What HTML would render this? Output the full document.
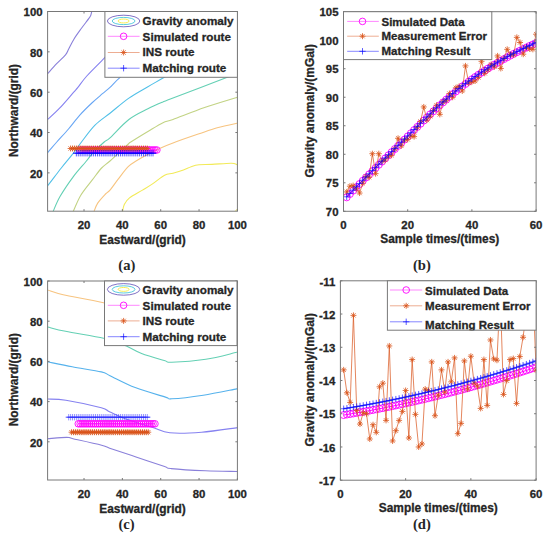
<!DOCTYPE html><html><head><meta charset="utf-8"><style>html,body{margin:0;padding:0;background:#fff;width:550px;height:539px;overflow:hidden}svg{display:block}text{stroke:#262626;stroke-width:0.3px}</style></head><body>
<svg width="550" height="539" viewBox="0 0 550 539" font-family='"Liberation Sans", sans-serif' font-weight="bold" font-size="11.9" fill="#262626">
<rect width="550" height="539" fill="#fff"/>
<defs><clipPath id="ca"><rect x="47.6" y="11.5" width="189.8" height="199.7"/></clipPath></defs>
<g clip-path="url(#ca)">
<path d="M46 75.3C46.27 75.02 45.87 75.5 47.6 73.6C49.33 71.7 53.42 67.03 56.4 63.9C59.38 60.77 63.45 57.28 65.5 54.8C67.55 52.32 67.3 51.6 68.7 49C70.1 46.4 71.83 42.57 73.9 39.2C75.97 35.83 78.6 32.27 81.1 28.8C83.6 25.33 87.28 20.67 88.9 18.4C90.52 16.13 90.33 16.33 90.8 15.2C91.27 14.07 91.42 12.8 91.7 11.6C91.98 10.4 92.37 8.6 92.5 8" fill="none" stroke="#8a80da" stroke-width="1.1" stroke-opacity="1"/>
<path d="M46 120.4C46.38 120.15 46.03 120.93 48.3 118.9C50.57 116.87 55.4 112.62 59.6 108.2C63.8 103.78 70.45 95.87 73.5 92.4C76.55 88.93 75.68 90.13 77.9 87.4C80.12 84.67 82.48 80.78 86.8 76C91.12 71.22 97.43 65.03 103.8 58.7C110.17 52.37 117.3 46.12 125 38C132.7 29.88 145.83 14.67 150 10" fill="none" stroke="#8682f0" stroke-width="1.1" stroke-opacity="1"/>
<path d="M46 154C46.38 153.63 46.5 153.8 48.3 151.8C50.1 149.8 53.43 145.8 56.8 142C60.17 138.2 64.67 133.48 68.5 129C72.33 124.52 75.82 119.52 79.8 115.1C83.78 110.68 88.62 106.07 92.4 102.5C96.18 98.93 99.57 96.22 102.5 93.7C105.43 91.18 107.07 90.13 110 87.4C112.93 84.67 115.1 81.53 120.1 77.3C125.1 73.07 136.68 64.55 140 62" fill="none" stroke="#68a6f4" stroke-width="1.1" stroke-opacity="1"/>
<path d="M46 187C46.38 186.65 45.75 188.07 48.3 184.9C50.85 181.73 57.18 173.2 61.3 168C65.42 162.8 69.63 158.03 73 153.7C76.37 149.37 77.83 146.75 81.5 142C85.17 137.25 90.25 130 95 125.2C99.75 120.4 104.35 117.72 110 113.2C115.65 108.68 122.58 102.52 128.9 98.1C135.22 93.68 142 90.17 147.9 86.7C153.8 83.23 157.28 81.42 164.3 77.3C171.32 73.18 185.72 64.55 190 62" fill="none" stroke="#52c0e8" stroke-width="1.1" stroke-opacity="1"/>
<path d="M52 214C52.15 213.67 51.57 214.9 52.9 212C54.23 209.1 56.65 202.42 60 196.6C63.35 190.78 68.67 182.95 73 177.1C77.33 171.25 82.53 165.72 86 161.5C89.47 157.28 90.77 155.05 93.8 151.8C96.83 148.55 101.5 144.33 104.2 142C106.9 139.67 105.88 141.55 110 137.8C114.12 134.05 122.58 124.33 128.9 119.5C135.22 114.67 142.22 111.73 147.9 108.8C153.58 105.87 158.82 103.68 163 101.9C167.18 100.12 162.28 102.2 173 98.1C183.72 94 215.3 81.98 227.3 77.3C239.3 72.62 242.05 71.22 245 70" fill="none" stroke="#64d0b4" stroke-width="1.1" stroke-opacity="1"/>
<path d="M72 214C72.17 213.67 71.53 215.12 73 212C74.47 208.88 77.55 200.68 80.8 195.3C84.05 189.92 89.03 184.25 92.5 179.7C95.97 175.15 98.68 171.12 101.6 168C104.52 164.88 105.55 165 110 161C114.45 157 124.83 147.17 128.3 144C131.77 140.83 127.53 144.08 130.8 142C134.07 139.92 142.53 134.72 147.9 131.5C153.27 128.28 158.82 124.7 163 122.7C167.18 120.7 166.07 122.02 173 119.5C179.93 116.98 193.98 111.27 204.6 107.6C215.22 103.93 229.97 99.6 236.7 97.5C243.43 95.4 243.62 95.42 245 95" fill="none" stroke="#c2d384" stroke-width="1.1" stroke-opacity="1"/>
<path d="M93 214C93.13 213.67 93.02 213.82 93.8 212C94.58 210.18 95.75 206.1 97.7 203.1C99.65 200.1 103.45 196.17 105.5 194C107.55 191.83 107.95 192.48 110 190.1C112.05 187.72 114.77 183.6 117.8 179.7C120.83 175.8 124.95 169.95 128.2 166.7C131.45 163.45 133.83 162.37 137.3 160.2C140.77 158.03 145.1 155.75 149 153.7C152.9 151.65 156.7 149.7 160.7 147.9C164.7 146.1 166.75 145.2 173 142.9C179.25 140.6 190.83 136.63 198.2 134.1C205.57 131.57 210.78 129.5 217.2 127.7C223.62 125.9 232.07 124.25 236.7 123.3C241.33 122.35 243.62 122.22 245 122" fill="none" stroke="#f7c480" stroke-width="1.1" stroke-opacity="1"/>
<path d="M121.5 214C121.65 213.67 121.93 213.6 122.4 212C122.87 210.4 123.12 206.75 124.3 204.4C125.48 202.05 126.47 200.28 129.5 197.9C132.53 195.52 138.6 192.48 142.5 190.1C146.4 187.72 149.22 186.08 152.9 183.6C156.58 181.12 161.25 176.93 164.6 175.2C167.95 173.47 169.87 174.07 173 173.2C176.13 172.33 180.37 171.08 183.4 170C186.43 168.92 188.6 167.57 191.2 166.7C193.8 165.83 195.53 165.18 199 164.8C202.47 164.42 206.58 164.67 212 164.4C217.42 164.13 227.17 163.08 231.5 163.2C235.83 163.32 235.75 164.47 238 165.1C240.25 165.73 243.83 166.68 245 167" fill="none" stroke="#f2ea58" stroke-width="1.1" stroke-opacity="1"/>
<polyline points="233.5,213 240,206.5" stroke="#f2ea58" fill="none"/>
<circle cx="80.19" cy="150" r="3.3" fill="none" stroke="#ff00ff" stroke-width="0.9"/>
<circle cx="82.11" cy="150" r="3.3" fill="none" stroke="#ff00ff" stroke-width="0.9"/>
<circle cx="84.03" cy="150" r="3.3" fill="none" stroke="#ff00ff" stroke-width="0.9"/>
<circle cx="85.94" cy="150" r="3.3" fill="none" stroke="#ff00ff" stroke-width="0.9"/>
<circle cx="87.86" cy="150" r="3.3" fill="none" stroke="#ff00ff" stroke-width="0.9"/>
<circle cx="89.78" cy="150" r="3.3" fill="none" stroke="#ff00ff" stroke-width="0.9"/>
<circle cx="91.69" cy="150" r="3.3" fill="none" stroke="#ff00ff" stroke-width="0.9"/>
<circle cx="93.61" cy="150" r="3.3" fill="none" stroke="#ff00ff" stroke-width="0.9"/>
<circle cx="95.53" cy="150" r="3.3" fill="none" stroke="#ff00ff" stroke-width="0.9"/>
<circle cx="97.45" cy="150" r="3.3" fill="none" stroke="#ff00ff" stroke-width="0.9"/>
<circle cx="99.36" cy="150" r="3.3" fill="none" stroke="#ff00ff" stroke-width="0.9"/>
<circle cx="101.28" cy="150" r="3.3" fill="none" stroke="#ff00ff" stroke-width="0.9"/>
<circle cx="103.2" cy="150" r="3.3" fill="none" stroke="#ff00ff" stroke-width="0.9"/>
<circle cx="105.12" cy="150" r="3.3" fill="none" stroke="#ff00ff" stroke-width="0.9"/>
<circle cx="107.03" cy="150" r="3.3" fill="none" stroke="#ff00ff" stroke-width="0.9"/>
<circle cx="108.95" cy="150" r="3.3" fill="none" stroke="#ff00ff" stroke-width="0.9"/>
<circle cx="110.87" cy="150" r="3.3" fill="none" stroke="#ff00ff" stroke-width="0.9"/>
<circle cx="112.78" cy="150" r="3.3" fill="none" stroke="#ff00ff" stroke-width="0.9"/>
<circle cx="114.7" cy="150" r="3.3" fill="none" stroke="#ff00ff" stroke-width="0.9"/>
<circle cx="116.62" cy="150" r="3.3" fill="none" stroke="#ff00ff" stroke-width="0.9"/>
<circle cx="118.54" cy="150" r="3.3" fill="none" stroke="#ff00ff" stroke-width="0.9"/>
<circle cx="120.45" cy="150" r="3.3" fill="none" stroke="#ff00ff" stroke-width="0.9"/>
<circle cx="122.37" cy="150" r="3.3" fill="none" stroke="#ff00ff" stroke-width="0.9"/>
<circle cx="124.29" cy="150" r="3.3" fill="none" stroke="#ff00ff" stroke-width="0.9"/>
<circle cx="126.2" cy="150" r="3.3" fill="none" stroke="#ff00ff" stroke-width="0.9"/>
<circle cx="128.12" cy="150" r="3.3" fill="none" stroke="#ff00ff" stroke-width="0.9"/>
<circle cx="130.04" cy="150" r="3.3" fill="none" stroke="#ff00ff" stroke-width="0.9"/>
<circle cx="131.96" cy="150" r="3.3" fill="none" stroke="#ff00ff" stroke-width="0.9"/>
<circle cx="133.87" cy="150" r="3.3" fill="none" stroke="#ff00ff" stroke-width="0.9"/>
<circle cx="135.79" cy="150" r="3.3" fill="none" stroke="#ff00ff" stroke-width="0.9"/>
<circle cx="137.71" cy="150" r="3.3" fill="none" stroke="#ff00ff" stroke-width="0.9"/>
<circle cx="139.62" cy="150" r="3.3" fill="none" stroke="#ff00ff" stroke-width="0.9"/>
<circle cx="141.54" cy="150" r="3.3" fill="none" stroke="#ff00ff" stroke-width="0.9"/>
<circle cx="143.46" cy="150" r="3.3" fill="none" stroke="#ff00ff" stroke-width="0.9"/>
<circle cx="145.38" cy="150" r="3.3" fill="none" stroke="#ff00ff" stroke-width="0.9"/>
<circle cx="147.29" cy="150" r="3.3" fill="none" stroke="#ff00ff" stroke-width="0.9"/>
<circle cx="149.21" cy="150" r="3.3" fill="none" stroke="#ff00ff" stroke-width="0.9"/>
<circle cx="151.13" cy="150" r="3.3" fill="none" stroke="#ff00ff" stroke-width="0.9"/>
<circle cx="153.04" cy="150" r="3.3" fill="none" stroke="#ff00ff" stroke-width="0.9"/>
<circle cx="154.96" cy="150" r="3.3" fill="none" stroke="#ff00ff" stroke-width="0.9"/>
<circle cx="156.88" cy="150" r="3.3" fill="none" stroke="#ff00ff" stroke-width="0.9"/>
<polyline points="80.19,150 156.88,150" fill="none" stroke="#ff00ff" stroke-width="1.0" stroke-opacity="1.0" stroke-linejoin="round" />
<polyline points="70.61,148.5 147.29,148.5" fill="none" stroke="#d95319" stroke-width="1.0" stroke-opacity="1.0" stroke-linejoin="round" />
<path d="M67.61 148.5h6M70.61 145.5v6M68.49 146.38l4.24 4.24M68.49 150.62l4.24 -4.24" stroke="#d95319" stroke-width="0.8"/>
<path d="M69.52 148.5h6M72.52 145.5v6M70.4 146.38l4.24 4.24M70.4 150.62l4.24 -4.24" stroke="#d95319" stroke-width="0.8"/>
<path d="M71.44 148.5h6M74.44 145.5v6M72.32 146.38l4.24 4.24M72.32 150.62l4.24 -4.24" stroke="#d95319" stroke-width="0.8"/>
<path d="M73.36 148.5h6M76.36 145.5v6M74.24 146.38l4.24 4.24M74.24 150.62l4.24 -4.24" stroke="#d95319" stroke-width="0.8"/>
<path d="M75.27 148.5h6M78.27 145.5v6M76.15 146.38l4.24 4.24M76.15 150.62l4.24 -4.24" stroke="#d95319" stroke-width="0.8"/>
<path d="M77.19 148.5h6M80.19 145.5v6M78.07 146.38l4.24 4.24M78.07 150.62l4.24 -4.24" stroke="#d95319" stroke-width="0.8"/>
<path d="M79.11 148.5h6M82.11 145.5v6M79.99 146.38l4.24 4.24M79.99 150.62l4.24 -4.24" stroke="#d95319" stroke-width="0.8"/>
<path d="M81.03 148.5h6M84.03 145.5v6M81.91 146.38l4.24 4.24M81.91 150.62l4.24 -4.24" stroke="#d95319" stroke-width="0.8"/>
<path d="M82.94 148.5h6M85.94 145.5v6M83.82 146.38l4.24 4.24M83.82 150.62l4.24 -4.24" stroke="#d95319" stroke-width="0.8"/>
<path d="M84.86 148.5h6M87.86 145.5v6M85.74 146.38l4.24 4.24M85.74 150.62l4.24 -4.24" stroke="#d95319" stroke-width="0.8"/>
<path d="M86.78 148.5h6M89.78 145.5v6M87.66 146.38l4.24 4.24M87.66 150.62l4.24 -4.24" stroke="#d95319" stroke-width="0.8"/>
<path d="M88.69 148.5h6M91.69 145.5v6M89.57 146.38l4.24 4.24M89.57 150.62l4.24 -4.24" stroke="#d95319" stroke-width="0.8"/>
<path d="M90.61 148.5h6M93.61 145.5v6M91.49 146.38l4.24 4.24M91.49 150.62l4.24 -4.24" stroke="#d95319" stroke-width="0.8"/>
<path d="M92.53 148.5h6M95.53 145.5v6M93.41 146.38l4.24 4.24M93.41 150.62l4.24 -4.24" stroke="#d95319" stroke-width="0.8"/>
<path d="M94.45 148.5h6M97.45 145.5v6M95.33 146.38l4.24 4.24M95.33 150.62l4.24 -4.24" stroke="#d95319" stroke-width="0.8"/>
<path d="M96.36 148.5h6M99.36 145.5v6M97.24 146.38l4.24 4.24M97.24 150.62l4.24 -4.24" stroke="#d95319" stroke-width="0.8"/>
<path d="M98.28 148.5h6M101.28 145.5v6M99.16 146.38l4.24 4.24M99.16 150.62l4.24 -4.24" stroke="#d95319" stroke-width="0.8"/>
<path d="M100.2 148.5h6M103.2 145.5v6M101.08 146.38l4.24 4.24M101.08 150.62l4.24 -4.24" stroke="#d95319" stroke-width="0.8"/>
<path d="M102.12 148.5h6M105.12 145.5v6M102.99 146.38l4.24 4.24M102.99 150.62l4.24 -4.24" stroke="#d95319" stroke-width="0.8"/>
<path d="M104.03 148.5h6M107.03 145.5v6M104.91 146.38l4.24 4.24M104.91 150.62l4.24 -4.24" stroke="#d95319" stroke-width="0.8"/>
<path d="M105.95 148.5h6M108.95 145.5v6M106.83 146.38l4.24 4.24M106.83 150.62l4.24 -4.24" stroke="#d95319" stroke-width="0.8"/>
<path d="M107.87 148.5h6M110.87 145.5v6M108.75 146.38l4.24 4.24M108.75 150.62l4.24 -4.24" stroke="#d95319" stroke-width="0.8"/>
<path d="M109.78 148.5h6M112.78 145.5v6M110.66 146.38l4.24 4.24M110.66 150.62l4.24 -4.24" stroke="#d95319" stroke-width="0.8"/>
<path d="M111.7 148.5h6M114.7 145.5v6M112.58 146.38l4.24 4.24M112.58 150.62l4.24 -4.24" stroke="#d95319" stroke-width="0.8"/>
<path d="M113.62 148.5h6M116.62 145.5v6M114.5 146.38l4.24 4.24M114.5 150.62l4.24 -4.24" stroke="#d95319" stroke-width="0.8"/>
<path d="M115.54 148.5h6M118.54 145.5v6M116.41 146.38l4.24 4.24M116.41 150.62l4.24 -4.24" stroke="#d95319" stroke-width="0.8"/>
<path d="M117.45 148.5h6M120.45 145.5v6M118.33 146.38l4.24 4.24M118.33 150.62l4.24 -4.24" stroke="#d95319" stroke-width="0.8"/>
<path d="M119.37 148.5h6M122.37 145.5v6M120.25 146.38l4.24 4.24M120.25 150.62l4.24 -4.24" stroke="#d95319" stroke-width="0.8"/>
<path d="M121.29 148.5h6M124.29 145.5v6M122.17 146.38l4.24 4.24M122.17 150.62l4.24 -4.24" stroke="#d95319" stroke-width="0.8"/>
<path d="M123.2 148.5h6M126.2 145.5v6M124.08 146.38l4.24 4.24M124.08 150.62l4.24 -4.24" stroke="#d95319" stroke-width="0.8"/>
<path d="M125.12 148.5h6M128.12 145.5v6M126 146.38l4.24 4.24M126 150.62l4.24 -4.24" stroke="#d95319" stroke-width="0.8"/>
<path d="M127.04 148.5h6M130.04 145.5v6M127.92 146.38l4.24 4.24M127.92 150.62l4.24 -4.24" stroke="#d95319" stroke-width="0.8"/>
<path d="M128.96 148.5h6M131.96 145.5v6M129.83 146.38l4.24 4.24M129.83 150.62l4.24 -4.24" stroke="#d95319" stroke-width="0.8"/>
<path d="M130.87 148.5h6M133.87 145.5v6M131.75 146.38l4.24 4.24M131.75 150.62l4.24 -4.24" stroke="#d95319" stroke-width="0.8"/>
<path d="M132.79 148.5h6M135.79 145.5v6M133.67 146.38l4.24 4.24M133.67 150.62l4.24 -4.24" stroke="#d95319" stroke-width="0.8"/>
<path d="M134.71 148.5h6M137.71 145.5v6M135.59 146.38l4.24 4.24M135.59 150.62l4.24 -4.24" stroke="#d95319" stroke-width="0.8"/>
<path d="M136.62 148.5h6M139.62 145.5v6M137.5 146.38l4.24 4.24M137.5 150.62l4.24 -4.24" stroke="#d95319" stroke-width="0.8"/>
<path d="M138.54 148.5h6M141.54 145.5v6M139.42 146.38l4.24 4.24M139.42 150.62l4.24 -4.24" stroke="#d95319" stroke-width="0.8"/>
<path d="M140.46 148.5h6M143.46 145.5v6M141.34 146.38l4.24 4.24M141.34 150.62l4.24 -4.24" stroke="#d95319" stroke-width="0.8"/>
<path d="M142.38 148.5h6M145.38 145.5v6M143.25 146.38l4.24 4.24M143.25 150.62l4.24 -4.24" stroke="#d95319" stroke-width="0.8"/>
<path d="M144.29 148.5h6M147.29 145.5v6M145.17 146.38l4.24 4.24M145.17 150.62l4.24 -4.24" stroke="#d95319" stroke-width="0.8"/>
<polyline points="73.16,153.2 156.24,153.2" fill="none" stroke="#0000ff" stroke-width="0.7" stroke-opacity="1.0" stroke-linejoin="round" />
<path d="M73.16 153.2h6.4M76.36 150v6.4" stroke="#0000ff" stroke-width="0.65"/>
<path d="M75.07 153.2h6.4M78.27 150v6.4" stroke="#0000ff" stroke-width="0.65"/>
<path d="M76.99 153.2h6.4M80.19 150v6.4" stroke="#0000ff" stroke-width="0.65"/>
<path d="M78.91 153.2h6.4M82.11 150v6.4" stroke="#0000ff" stroke-width="0.65"/>
<path d="M80.83 153.2h6.4M84.03 150v6.4" stroke="#0000ff" stroke-width="0.65"/>
<path d="M82.74 153.2h6.4M85.94 150v6.4" stroke="#0000ff" stroke-width="0.65"/>
<path d="M84.66 153.2h6.4M87.86 150v6.4" stroke="#0000ff" stroke-width="0.65"/>
<path d="M86.58 153.2h6.4M89.78 150v6.4" stroke="#0000ff" stroke-width="0.65"/>
<path d="M88.49 153.2h6.4M91.69 150v6.4" stroke="#0000ff" stroke-width="0.65"/>
<path d="M90.41 153.2h6.4M93.61 150v6.4" stroke="#0000ff" stroke-width="0.65"/>
<path d="M92.33 153.2h6.4M95.53 150v6.4" stroke="#0000ff" stroke-width="0.65"/>
<path d="M94.25 153.2h6.4M97.45 150v6.4" stroke="#0000ff" stroke-width="0.65"/>
<path d="M96.16 153.2h6.4M99.36 150v6.4" stroke="#0000ff" stroke-width="0.65"/>
<path d="M98.08 153.2h6.4M101.28 150v6.4" stroke="#0000ff" stroke-width="0.65"/>
<path d="M100 153.2h6.4M103.2 150v6.4" stroke="#0000ff" stroke-width="0.65"/>
<path d="M101.92 153.2h6.4M105.12 150v6.4" stroke="#0000ff" stroke-width="0.65"/>
<path d="M103.83 153.2h6.4M107.03 150v6.4" stroke="#0000ff" stroke-width="0.65"/>
<path d="M105.75 153.2h6.4M108.95 150v6.4" stroke="#0000ff" stroke-width="0.65"/>
<path d="M107.67 153.2h6.4M110.87 150v6.4" stroke="#0000ff" stroke-width="0.65"/>
<path d="M109.58 153.2h6.4M112.78 150v6.4" stroke="#0000ff" stroke-width="0.65"/>
<path d="M111.5 153.2h6.4M114.7 150v6.4" stroke="#0000ff" stroke-width="0.65"/>
<path d="M113.42 153.2h6.4M116.62 150v6.4" stroke="#0000ff" stroke-width="0.65"/>
<path d="M115.34 153.2h6.4M118.54 150v6.4" stroke="#0000ff" stroke-width="0.65"/>
<path d="M117.25 153.2h6.4M120.45 150v6.4" stroke="#0000ff" stroke-width="0.65"/>
<path d="M119.17 153.2h6.4M122.37 150v6.4" stroke="#0000ff" stroke-width="0.65"/>
<path d="M121.09 153.2h6.4M124.29 150v6.4" stroke="#0000ff" stroke-width="0.65"/>
<path d="M123 153.2h6.4M126.2 150v6.4" stroke="#0000ff" stroke-width="0.65"/>
<path d="M124.92 153.2h6.4M128.12 150v6.4" stroke="#0000ff" stroke-width="0.65"/>
<path d="M126.84 153.2h6.4M130.04 150v6.4" stroke="#0000ff" stroke-width="0.65"/>
<path d="M128.76 153.2h6.4M131.96 150v6.4" stroke="#0000ff" stroke-width="0.65"/>
<path d="M130.67 153.2h6.4M133.87 150v6.4" stroke="#0000ff" stroke-width="0.65"/>
<path d="M132.59 153.2h6.4M135.79 150v6.4" stroke="#0000ff" stroke-width="0.65"/>
<path d="M134.51 153.2h6.4M137.71 150v6.4" stroke="#0000ff" stroke-width="0.65"/>
<path d="M136.42 153.2h6.4M139.62 150v6.4" stroke="#0000ff" stroke-width="0.65"/>
<path d="M138.34 153.2h6.4M141.54 150v6.4" stroke="#0000ff" stroke-width="0.65"/>
<path d="M140.26 153.2h6.4M143.46 150v6.4" stroke="#0000ff" stroke-width="0.65"/>
<path d="M142.18 153.2h6.4M145.38 150v6.4" stroke="#0000ff" stroke-width="0.65"/>
<path d="M144.09 153.2h6.4M147.29 150v6.4" stroke="#0000ff" stroke-width="0.65"/>
<path d="M146.01 153.2h6.4M149.21 150v6.4" stroke="#0000ff" stroke-width="0.65"/>
<path d="M147.93 153.2h6.4M151.13 150v6.4" stroke="#0000ff" stroke-width="0.65"/>
<path d="M149.84 153.2h6.4M153.04 150v6.4" stroke="#0000ff" stroke-width="0.65"/>
</g>
<rect x="47.6" y="11.5" width="189.8" height="199.7" fill="none" stroke="#787878" stroke-width="1"/>
<line x1="84.03" y1="211.2" x2="84.03" y2="209.2" stroke="#787878" stroke-width="1"/>
<line x1="84.03" y1="11.5" x2="84.03" y2="13.5" stroke="#787878" stroke-width="1"/>
<text x="84.03" y="228.9" text-anchor="middle" font-size="11.4">20</text>
<line x1="122.37" y1="211.2" x2="122.37" y2="209.2" stroke="#787878" stroke-width="1"/>
<line x1="122.37" y1="11.5" x2="122.37" y2="13.5" stroke="#787878" stroke-width="1"/>
<text x="122.37" y="228.9" text-anchor="middle" font-size="11.4">40</text>
<line x1="160.71" y1="211.2" x2="160.71" y2="209.2" stroke="#787878" stroke-width="1"/>
<line x1="160.71" y1="11.5" x2="160.71" y2="13.5" stroke="#787878" stroke-width="1"/>
<text x="160.71" y="228.9" text-anchor="middle" font-size="11.4">60</text>
<line x1="199.06" y1="211.2" x2="199.06" y2="209.2" stroke="#787878" stroke-width="1"/>
<line x1="199.06" y1="11.5" x2="199.06" y2="13.5" stroke="#787878" stroke-width="1"/>
<text x="199.06" y="228.9" text-anchor="middle" font-size="11.4">80</text>
<line x1="237.4" y1="211.2" x2="237.4" y2="209.2" stroke="#787878" stroke-width="1"/>
<line x1="237.4" y1="11.5" x2="237.4" y2="13.5" stroke="#787878" stroke-width="1"/>
<text x="237.4" y="228.9" text-anchor="middle" font-size="11.4">100</text>
<line x1="47.6" y1="172.87" x2="49.6" y2="172.87" stroke="#787878" stroke-width="1"/>
<line x1="237.4" y1="172.87" x2="235.4" y2="172.87" stroke="#787878" stroke-width="1"/>
<text x="42.6" y="177.57" text-anchor="end" font-size="11.4">20</text>
<line x1="47.6" y1="132.53" x2="49.6" y2="132.53" stroke="#787878" stroke-width="1"/>
<line x1="237.4" y1="132.53" x2="235.4" y2="132.53" stroke="#787878" stroke-width="1"/>
<text x="42.6" y="137.23" text-anchor="end" font-size="11.4">40</text>
<line x1="47.6" y1="92.19" x2="49.6" y2="92.19" stroke="#787878" stroke-width="1"/>
<line x1="237.4" y1="92.19" x2="235.4" y2="92.19" stroke="#787878" stroke-width="1"/>
<text x="42.6" y="96.89" text-anchor="end" font-size="11.4">60</text>
<line x1="47.6" y1="51.84" x2="49.6" y2="51.84" stroke="#787878" stroke-width="1"/>
<line x1="237.4" y1="51.84" x2="235.4" y2="51.84" stroke="#787878" stroke-width="1"/>
<text x="42.6" y="56.54" text-anchor="end" font-size="11.4">80</text>
<line x1="47.6" y1="11.5" x2="49.6" y2="11.5" stroke="#787878" stroke-width="1"/>
<line x1="237.4" y1="11.5" x2="235.4" y2="11.5" stroke="#787878" stroke-width="1"/>
<text x="42.6" y="16.2" text-anchor="end" font-size="11.4">100</text>
<text x="142.5" y="243.8" text-anchor="middle">Eastward/(grid)</text>
<text x="19" y="111.35" text-anchor="middle" transform="rotate(-90 18.2 111.35)">Northward/(grid)</text>
<rect x="104.9" y="11.5" width="132.5" height="65.8" fill="#fff" stroke="#787878" stroke-width="1"/>
<ellipse cx="123.6" cy="21" rx="16.2" ry="5.8" fill="none" stroke="#3e26a8" stroke-width="1" stroke-opacity="0.65"/>
<ellipse cx="123.6" cy="21" rx="11.4" ry="3.6" fill="none" stroke="#18b6d2" stroke-width="1" stroke-opacity="0.7"/>
<ellipse cx="123.6" cy="21" rx="5.5" ry="1.95" fill="none" stroke="#f5ea2a" stroke-width="1" stroke-opacity="0.8"/>
<polyline points="107.8,36.3 139.6,36.3" fill="none" stroke="#ff00ff" stroke-width="0.8" stroke-opacity="0.6" stroke-linejoin="round" />
<circle cx="123.6" cy="36.3" r="3.3" fill="none" stroke="#ff00ff" stroke-width="0.9"/>
<polyline points="107.8,52.5 139.6,52.5" fill="none" stroke="#d95319" stroke-width="0.8" stroke-opacity="0.6" stroke-linejoin="round" />
<path d="M120.6 52.5h6M123.6 49.5v6M121.48 50.38l4.24 4.24M121.48 54.62l4.24 -4.24" stroke="#d95319" stroke-width="0.8"/>
<polyline points="107.8,68.2 139.6,68.2" fill="none" stroke="#0000ff" stroke-width="0.8" stroke-opacity="0.6" stroke-linejoin="round" />
<path d="M120.4 68.2h6.4M123.6 65v6.4" stroke="#0000ff" stroke-width="0.65"/>
<text x="142.6" y="24.8" font-size="11.7">Gravity anomaly</text>
<text x="142.6" y="40.6" font-size="11.7">Simulated route</text>
<text x="142.6" y="56.4" font-size="11.7">INS route</text>
<text x="142.6" y="72.3" font-size="11.7">Matching route</text>
<defs><clipPath id="cb"><rect x="343.5" y="11.7" width="192.6" height="199.6"/></clipPath></defs>
<g clip-path="url(#cb)">
<polyline points="346.71,197.37 349.92,194 353.13,190.65 356.34,187.33 359.55,184.05 362.76,180.79 365.97,177.55 369.18,174.33 372.39,171.13 375.6,167.94 378.81,164.77 382.02,161.61 385.23,158.45 388.44,155.31 391.65,152.16 394.86,149.02 398.07,145.88 401.28,142.73 404.49,139.58 407.7,136.42 410.91,133.25 414.12,130.07 417.33,126.9 420.54,123.73 423.75,120.59 426.96,117.47 430.17,114.37 433.38,111.32 436.59,108.3 439.8,105.34 443.01,102.44 446.22,99.6 449.43,96.83 452.64,94.13 455.85,91.5 459.06,88.93 462.27,86.43 465.48,83.99 468.69,81.62 471.9,79.3 475.11,77.04 478.32,74.84 481.53,72.69 484.74,70.6 487.95,68.56 491.16,66.57 494.37,64.62 497.58,62.72 500.79,60.87 504,59.06 507.21,57.3 510.42,55.57 513.63,53.88 516.84,52.23 520.05,50.61 523.26,49.03 526.47,47.48 529.68,45.95 532.89,44.46 536.1,42.99" fill="none" stroke="#ff00ff" stroke-width="1.0" stroke-opacity="1.0" stroke-linejoin="round" />
<circle cx="346.71" cy="197.37" r="3.5" fill="none" stroke="#ff00ff" stroke-width="0.9"/>
<circle cx="349.92" cy="194" r="3.5" fill="none" stroke="#ff00ff" stroke-width="0.9"/>
<circle cx="353.13" cy="190.65" r="3.5" fill="none" stroke="#ff00ff" stroke-width="0.9"/>
<circle cx="356.34" cy="187.33" r="3.5" fill="none" stroke="#ff00ff" stroke-width="0.9"/>
<circle cx="359.55" cy="184.05" r="3.5" fill="none" stroke="#ff00ff" stroke-width="0.9"/>
<circle cx="362.76" cy="180.79" r="3.5" fill="none" stroke="#ff00ff" stroke-width="0.9"/>
<circle cx="365.97" cy="177.55" r="3.5" fill="none" stroke="#ff00ff" stroke-width="0.9"/>
<circle cx="369.18" cy="174.33" r="3.5" fill="none" stroke="#ff00ff" stroke-width="0.9"/>
<circle cx="372.39" cy="171.13" r="3.5" fill="none" stroke="#ff00ff" stroke-width="0.9"/>
<circle cx="375.6" cy="167.94" r="3.5" fill="none" stroke="#ff00ff" stroke-width="0.9"/>
<circle cx="378.81" cy="164.77" r="3.5" fill="none" stroke="#ff00ff" stroke-width="0.9"/>
<circle cx="382.02" cy="161.61" r="3.5" fill="none" stroke="#ff00ff" stroke-width="0.9"/>
<circle cx="385.23" cy="158.45" r="3.5" fill="none" stroke="#ff00ff" stroke-width="0.9"/>
<circle cx="388.44" cy="155.31" r="3.5" fill="none" stroke="#ff00ff" stroke-width="0.9"/>
<circle cx="391.65" cy="152.16" r="3.5" fill="none" stroke="#ff00ff" stroke-width="0.9"/>
<circle cx="394.86" cy="149.02" r="3.5" fill="none" stroke="#ff00ff" stroke-width="0.9"/>
<circle cx="398.07" cy="145.88" r="3.5" fill="none" stroke="#ff00ff" stroke-width="0.9"/>
<circle cx="401.28" cy="142.73" r="3.5" fill="none" stroke="#ff00ff" stroke-width="0.9"/>
<circle cx="404.49" cy="139.58" r="3.5" fill="none" stroke="#ff00ff" stroke-width="0.9"/>
<circle cx="407.7" cy="136.42" r="3.5" fill="none" stroke="#ff00ff" stroke-width="0.9"/>
<circle cx="410.91" cy="133.25" r="3.5" fill="none" stroke="#ff00ff" stroke-width="0.9"/>
<circle cx="414.12" cy="130.07" r="3.5" fill="none" stroke="#ff00ff" stroke-width="0.9"/>
<circle cx="417.33" cy="126.9" r="3.5" fill="none" stroke="#ff00ff" stroke-width="0.9"/>
<circle cx="420.54" cy="123.73" r="3.5" fill="none" stroke="#ff00ff" stroke-width="0.9"/>
<circle cx="423.75" cy="120.59" r="3.5" fill="none" stroke="#ff00ff" stroke-width="0.9"/>
<circle cx="426.96" cy="117.47" r="3.5" fill="none" stroke="#ff00ff" stroke-width="0.9"/>
<circle cx="430.17" cy="114.37" r="3.5" fill="none" stroke="#ff00ff" stroke-width="0.9"/>
<circle cx="433.38" cy="111.32" r="3.5" fill="none" stroke="#ff00ff" stroke-width="0.9"/>
<circle cx="436.59" cy="108.3" r="3.5" fill="none" stroke="#ff00ff" stroke-width="0.9"/>
<circle cx="439.8" cy="105.34" r="3.5" fill="none" stroke="#ff00ff" stroke-width="0.9"/>
<circle cx="443.01" cy="102.44" r="3.5" fill="none" stroke="#ff00ff" stroke-width="0.9"/>
<circle cx="446.22" cy="99.6" r="3.5" fill="none" stroke="#ff00ff" stroke-width="0.9"/>
<circle cx="449.43" cy="96.83" r="3.5" fill="none" stroke="#ff00ff" stroke-width="0.9"/>
<circle cx="452.64" cy="94.13" r="3.5" fill="none" stroke="#ff00ff" stroke-width="0.9"/>
<circle cx="455.85" cy="91.5" r="3.5" fill="none" stroke="#ff00ff" stroke-width="0.9"/>
<circle cx="459.06" cy="88.93" r="3.5" fill="none" stroke="#ff00ff" stroke-width="0.9"/>
<circle cx="462.27" cy="86.43" r="3.5" fill="none" stroke="#ff00ff" stroke-width="0.9"/>
<circle cx="465.48" cy="83.99" r="3.5" fill="none" stroke="#ff00ff" stroke-width="0.9"/>
<circle cx="468.69" cy="81.62" r="3.5" fill="none" stroke="#ff00ff" stroke-width="0.9"/>
<circle cx="471.9" cy="79.3" r="3.5" fill="none" stroke="#ff00ff" stroke-width="0.9"/>
<circle cx="475.11" cy="77.04" r="3.5" fill="none" stroke="#ff00ff" stroke-width="0.9"/>
<circle cx="478.32" cy="74.84" r="3.5" fill="none" stroke="#ff00ff" stroke-width="0.9"/>
<circle cx="481.53" cy="72.69" r="3.5" fill="none" stroke="#ff00ff" stroke-width="0.9"/>
<circle cx="484.74" cy="70.6" r="3.5" fill="none" stroke="#ff00ff" stroke-width="0.9"/>
<circle cx="487.95" cy="68.56" r="3.5" fill="none" stroke="#ff00ff" stroke-width="0.9"/>
<circle cx="491.16" cy="66.57" r="3.5" fill="none" stroke="#ff00ff" stroke-width="0.9"/>
<circle cx="494.37" cy="64.62" r="3.5" fill="none" stroke="#ff00ff" stroke-width="0.9"/>
<circle cx="497.58" cy="62.72" r="3.5" fill="none" stroke="#ff00ff" stroke-width="0.9"/>
<circle cx="500.79" cy="60.87" r="3.5" fill="none" stroke="#ff00ff" stroke-width="0.9"/>
<circle cx="504" cy="59.06" r="3.5" fill="none" stroke="#ff00ff" stroke-width="0.9"/>
<circle cx="507.21" cy="57.3" r="3.5" fill="none" stroke="#ff00ff" stroke-width="0.9"/>
<circle cx="510.42" cy="55.57" r="3.5" fill="none" stroke="#ff00ff" stroke-width="0.9"/>
<circle cx="513.63" cy="53.88" r="3.5" fill="none" stroke="#ff00ff" stroke-width="0.9"/>
<circle cx="516.84" cy="52.23" r="3.5" fill="none" stroke="#ff00ff" stroke-width="0.9"/>
<circle cx="520.05" cy="50.61" r="3.5" fill="none" stroke="#ff00ff" stroke-width="0.9"/>
<circle cx="523.26" cy="49.03" r="3.5" fill="none" stroke="#ff00ff" stroke-width="0.9"/>
<circle cx="526.47" cy="47.48" r="3.5" fill="none" stroke="#ff00ff" stroke-width="0.9"/>
<circle cx="529.68" cy="45.95" r="3.5" fill="none" stroke="#ff00ff" stroke-width="0.9"/>
<circle cx="532.89" cy="44.46" r="3.5" fill="none" stroke="#ff00ff" stroke-width="0.9"/>
<circle cx="536.1" cy="42.99" r="3.5" fill="none" stroke="#ff00ff" stroke-width="0.9"/>
<polyline points="346.71,191.91 349.92,186.21 353.13,185.64 356.34,188.54 359.55,193.05 362.76,183.17 365.97,176.51 369.18,177.25 372.39,153.7 375.6,173.66 378.81,153.7 382.02,161.36 385.23,159.97 388.44,156.23 391.65,155.19 394.86,148.97 398.07,138.3 401.28,145.9 404.49,140.03 407.7,139.36 410.91,136.05 414.12,136.59 417.33,127.41 420.54,121.5 423.75,106.94 426.96,120.04 430.17,116.27 433.38,110.44 436.59,105.24 439.8,114.35 443.01,101.91 446.22,100.31 449.43,93.57 452.64,97.23 455.85,87.83 459.06,86.48 462.27,90.97 465.48,65.88 468.69,83.06 471.9,81.74 475.11,80.99 478.32,77.46 481.53,61.31 484.74,73.29 487.95,69.87 491.16,64.4 494.37,66.81 497.58,55.9 500.79,68.44 504,58.5 507.21,49.34 510.42,54.62 513.63,54.75 516.84,37.36 520.05,42.5 523.26,54.19 526.47,47.15 529.68,48.95 532.89,49.34 536.1,34.23" fill="none" stroke="#d95319" stroke-width="1" stroke-opacity="0.7" stroke-linejoin="round" />
<path d="M343.71 191.91h6M346.71 188.91v6M344.59 189.79l4.24 4.24M344.59 194.03l4.24 -4.24" stroke="#d95319" stroke-width="0.8"/>
<path d="M346.92 186.21h6M349.92 183.21v6M347.8 184.09l4.24 4.24M347.8 188.33l4.24 -4.24" stroke="#d95319" stroke-width="0.8"/>
<path d="M350.13 185.64h6M353.13 182.64v6M351.01 183.52l4.24 4.24M351.01 187.76l4.24 -4.24" stroke="#d95319" stroke-width="0.8"/>
<path d="M353.34 188.54h6M356.34 185.54v6M354.22 186.42l4.24 4.24M354.22 190.66l4.24 -4.24" stroke="#d95319" stroke-width="0.8"/>
<path d="M356.55 193.05h6M359.55 190.05v6M357.43 190.93l4.24 4.24M357.43 195.17l4.24 -4.24" stroke="#d95319" stroke-width="0.8"/>
<path d="M359.76 183.17h6M362.76 180.17v6M360.64 181.05l4.24 4.24M360.64 185.3l4.24 -4.24" stroke="#d95319" stroke-width="0.8"/>
<path d="M362.97 176.51h6M365.97 173.51v6M363.85 174.39l4.24 4.24M363.85 178.63l4.24 -4.24" stroke="#d95319" stroke-width="0.8"/>
<path d="M366.18 177.25h6M369.18 174.25v6M367.06 175.13l4.24 4.24M367.06 179.37l4.24 -4.24" stroke="#d95319" stroke-width="0.8"/>
<path d="M369.39 153.7h6M372.39 150.7v6M370.27 151.58l4.24 4.24M370.27 155.82l4.24 -4.24" stroke="#d95319" stroke-width="0.8"/>
<path d="M372.6 173.66h6M375.6 170.66v6M373.48 171.54l4.24 4.24M373.48 175.78l4.24 -4.24" stroke="#d95319" stroke-width="0.8"/>
<path d="M375.81 153.7h6M378.81 150.7v6M376.69 151.58l4.24 4.24M376.69 155.82l4.24 -4.24" stroke="#d95319" stroke-width="0.8"/>
<path d="M379.02 161.36h6M382.02 158.36v6M379.9 159.24l4.24 4.24M379.9 163.48l4.24 -4.24" stroke="#d95319" stroke-width="0.8"/>
<path d="M382.23 159.97h6M385.23 156.97v6M383.11 157.85l4.24 4.24M383.11 162.1l4.24 -4.24" stroke="#d95319" stroke-width="0.8"/>
<path d="M385.44 156.23h6M388.44 153.23v6M386.32 154.11l4.24 4.24M386.32 158.35l4.24 -4.24" stroke="#d95319" stroke-width="0.8"/>
<path d="M388.65 155.19h6M391.65 152.19v6M389.53 153.07l4.24 4.24M389.53 157.31l4.24 -4.24" stroke="#d95319" stroke-width="0.8"/>
<path d="M391.86 148.97h6M394.86 145.97v6M392.74 146.85l4.24 4.24M392.74 151.09l4.24 -4.24" stroke="#d95319" stroke-width="0.8"/>
<path d="M395.07 138.3h6M398.07 135.3v6M395.95 136.18l4.24 4.24M395.95 140.42l4.24 -4.24" stroke="#d95319" stroke-width="0.8"/>
<path d="M398.28 145.9h6M401.28 142.9v6M399.16 143.78l4.24 4.24M399.16 148.02l4.24 -4.24" stroke="#d95319" stroke-width="0.8"/>
<path d="M401.49 140.03h6M404.49 137.03v6M402.37 137.91l4.24 4.24M402.37 142.15l4.24 -4.24" stroke="#d95319" stroke-width="0.8"/>
<path d="M404.7 139.36h6M407.7 136.36v6M405.58 137.24l4.24 4.24M405.58 141.48l4.24 -4.24" stroke="#d95319" stroke-width="0.8"/>
<path d="M407.91 136.05h6M410.91 133.05v6M408.79 133.93l4.24 4.24M408.79 138.17l4.24 -4.24" stroke="#d95319" stroke-width="0.8"/>
<path d="M411.12 136.59h6M414.12 133.59v6M412 134.47l4.24 4.24M412 138.71l4.24 -4.24" stroke="#d95319" stroke-width="0.8"/>
<path d="M414.33 127.41h6M417.33 124.41v6M415.21 125.29l4.24 4.24M415.21 129.54l4.24 -4.24" stroke="#d95319" stroke-width="0.8"/>
<path d="M417.54 121.5h6M420.54 118.5v6M418.42 119.38l4.24 4.24M418.42 123.62l4.24 -4.24" stroke="#d95319" stroke-width="0.8"/>
<path d="M420.75 106.94h6M423.75 103.94v6M421.63 104.82l4.24 4.24M421.63 109.06l4.24 -4.24" stroke="#d95319" stroke-width="0.8"/>
<path d="M423.96 120.04h6M426.96 117.04v6M424.84 117.92l4.24 4.24M424.84 122.16l4.24 -4.24" stroke="#d95319" stroke-width="0.8"/>
<path d="M427.17 116.27h6M430.17 113.27v6M428.05 114.15l4.24 4.24M428.05 118.39l4.24 -4.24" stroke="#d95319" stroke-width="0.8"/>
<path d="M430.38 110.44h6M433.38 107.44v6M431.26 108.32l4.24 4.24M431.26 112.57l4.24 -4.24" stroke="#d95319" stroke-width="0.8"/>
<path d="M433.59 105.24h6M436.59 102.24v6M434.47 103.12l4.24 4.24M434.47 107.36l4.24 -4.24" stroke="#d95319" stroke-width="0.8"/>
<path d="M436.8 114.35h6M439.8 111.35v6M437.68 112.23l4.24 4.24M437.68 116.47l4.24 -4.24" stroke="#d95319" stroke-width="0.8"/>
<path d="M440.01 101.91h6M443.01 98.91v6M440.89 99.79l4.24 4.24M440.89 104.03l4.24 -4.24" stroke="#d95319" stroke-width="0.8"/>
<path d="M443.22 100.31h6M446.22 97.31v6M444.1 98.19l4.24 4.24M444.1 102.43l4.24 -4.24" stroke="#d95319" stroke-width="0.8"/>
<path d="M446.43 93.57h6M449.43 90.57v6M447.31 91.45l4.24 4.24M447.31 95.69l4.24 -4.24" stroke="#d95319" stroke-width="0.8"/>
<path d="M449.64 97.23h6M452.64 94.23v6M450.52 95.11l4.24 4.24M450.52 99.35l4.24 -4.24" stroke="#d95319" stroke-width="0.8"/>
<path d="M452.85 87.83h6M455.85 84.83v6M453.73 85.71l4.24 4.24M453.73 89.95l4.24 -4.24" stroke="#d95319" stroke-width="0.8"/>
<path d="M456.06 86.48h6M459.06 83.48v6M456.94 84.36l4.24 4.24M456.94 88.6l4.24 -4.24" stroke="#d95319" stroke-width="0.8"/>
<path d="M459.27 90.97h6M462.27 87.97v6M460.15 88.85l4.24 4.24M460.15 93.09l4.24 -4.24" stroke="#d95319" stroke-width="0.8"/>
<path d="M462.48 65.88h6M465.48 62.88v6M463.36 63.76l4.24 4.24M463.36 68l4.24 -4.24" stroke="#d95319" stroke-width="0.8"/>
<path d="M465.69 83.06h6M468.69 80.06v6M466.57 80.94l4.24 4.24M466.57 85.18l4.24 -4.24" stroke="#d95319" stroke-width="0.8"/>
<path d="M468.9 81.74h6M471.9 78.74v6M469.78 79.62l4.24 4.24M469.78 83.86l4.24 -4.24" stroke="#d95319" stroke-width="0.8"/>
<path d="M472.11 80.99h6M475.11 77.99v6M472.99 78.87l4.24 4.24M472.99 83.11l4.24 -4.24" stroke="#d95319" stroke-width="0.8"/>
<path d="M475.32 77.46h6M478.32 74.46v6M476.2 75.34l4.24 4.24M476.2 79.58l4.24 -4.24" stroke="#d95319" stroke-width="0.8"/>
<path d="M478.53 61.31h6M481.53 58.31v6M479.41 59.19l4.24 4.24M479.41 63.44l4.24 -4.24" stroke="#d95319" stroke-width="0.8"/>
<path d="M481.74 73.29h6M484.74 70.29v6M482.62 71.17l4.24 4.24M482.62 75.41l4.24 -4.24" stroke="#d95319" stroke-width="0.8"/>
<path d="M484.95 69.87h6M487.95 66.87v6M485.83 67.75l4.24 4.24M485.83 71.99l4.24 -4.24" stroke="#d95319" stroke-width="0.8"/>
<path d="M488.16 64.4h6M491.16 61.4v6M489.04 62.28l4.24 4.24M489.04 66.52l4.24 -4.24" stroke="#d95319" stroke-width="0.8"/>
<path d="M491.37 66.81h6M494.37 63.81v6M492.25 64.69l4.24 4.24M492.25 68.93l4.24 -4.24" stroke="#d95319" stroke-width="0.8"/>
<path d="M494.58 55.9h6M497.58 52.9v6M495.46 53.78l4.24 4.24M495.46 58.02l4.24 -4.24" stroke="#d95319" stroke-width="0.8"/>
<path d="M497.79 68.44h6M500.79 65.44v6M498.67 66.32l4.24 4.24M498.67 70.56l4.24 -4.24" stroke="#d95319" stroke-width="0.8"/>
<path d="M501 58.5h6M504 55.5v6M501.88 56.38l4.24 4.24M501.88 60.63l4.24 -4.24" stroke="#d95319" stroke-width="0.8"/>
<path d="M504.21 49.34h6M507.21 46.34v6M505.09 47.22l4.24 4.24M505.09 51.46l4.24 -4.24" stroke="#d95319" stroke-width="0.8"/>
<path d="M507.42 54.62h6M510.42 51.62v6M508.3 52.5l4.24 4.24M508.3 56.74l4.24 -4.24" stroke="#d95319" stroke-width="0.8"/>
<path d="M510.63 54.75h6M513.63 51.75v6M511.51 52.63l4.24 4.24M511.51 56.87l4.24 -4.24" stroke="#d95319" stroke-width="0.8"/>
<path d="M513.84 37.36h6M516.84 34.36v6M514.72 35.24l4.24 4.24M514.72 39.48l4.24 -4.24" stroke="#d95319" stroke-width="0.8"/>
<path d="M517.05 42.5h6M520.05 39.5v6M517.93 40.37l4.24 4.24M517.93 44.62l4.24 -4.24" stroke="#d95319" stroke-width="0.8"/>
<path d="M520.26 54.19h6M523.26 51.19v6M521.14 52.07l4.24 4.24M521.14 56.31l4.24 -4.24" stroke="#d95319" stroke-width="0.8"/>
<path d="M523.47 47.15h6M526.47 44.15v6M524.35 45.03l4.24 4.24M524.35 49.27l4.24 -4.24" stroke="#d95319" stroke-width="0.8"/>
<path d="M526.68 48.95h6M529.68 45.95v6M527.56 46.82l4.24 4.24M527.56 51.07l4.24 -4.24" stroke="#d95319" stroke-width="0.8"/>
<path d="M529.89 49.34h6M532.89 46.34v6M530.77 47.22l4.24 4.24M530.77 51.46l4.24 -4.24" stroke="#d95319" stroke-width="0.8"/>
<path d="M533.1 34.23h6M536.1 31.23v6M533.98 32.11l4.24 4.24M533.98 36.35l4.24 -4.24" stroke="#d95319" stroke-width="0.8"/>
<polyline points="346.71,196.8 349.92,193.42 353.13,190.08 356.34,186.76 359.55,183.48 362.76,180.21 365.97,176.98 369.18,173.76 372.39,170.56 375.6,167.37 378.81,164.2 382.02,161.04 385.23,157.88 388.44,154.74 391.65,151.59 394.86,148.45 398.07,145.31 401.28,142.16 404.49,139.01 407.7,135.85 410.91,132.68 414.12,129.5 417.33,126.33 420.54,123.16 423.75,120.02 426.96,116.9 430.17,113.8 433.38,110.75 436.59,107.73 439.8,104.77 443.01,101.87 446.22,99.03 449.43,96.26 452.64,93.56 455.85,90.93 459.06,88.36 462.27,85.86 465.48,83.42 468.69,81.05 471.9,78.73 475.11,76.47 478.32,74.27 481.53,72.12 484.74,70.03 487.95,67.99 491.16,66 494.37,64.05 497.58,62.15 500.79,60.3 504,58.49 507.21,56.73 510.42,55 513.63,53.31 516.84,51.66 520.05,50.04 523.26,48.46 526.47,46.9 529.68,45.38 532.89,43.89 536.1,42.42" fill="none" stroke="#0000ff" stroke-width="0.7" stroke-opacity="1.0" stroke-linejoin="round" />
<path d="M343.51 196.8h6.4M346.71 193.6v6.4" stroke="#0000ff" stroke-width="0.65"/>
<path d="M346.72 193.42h6.4M349.92 190.22v6.4" stroke="#0000ff" stroke-width="0.65"/>
<path d="M349.93 190.08h6.4M353.13 186.88v6.4" stroke="#0000ff" stroke-width="0.65"/>
<path d="M353.14 186.76h6.4M356.34 183.56v6.4" stroke="#0000ff" stroke-width="0.65"/>
<path d="M356.35 183.48h6.4M359.55 180.28v6.4" stroke="#0000ff" stroke-width="0.65"/>
<path d="M359.56 180.21h6.4M362.76 177.01v6.4" stroke="#0000ff" stroke-width="0.65"/>
<path d="M362.77 176.98h6.4M365.97 173.78v6.4" stroke="#0000ff" stroke-width="0.65"/>
<path d="M365.98 173.76h6.4M369.18 170.56v6.4" stroke="#0000ff" stroke-width="0.65"/>
<path d="M369.19 170.56h6.4M372.39 167.36v6.4" stroke="#0000ff" stroke-width="0.65"/>
<path d="M372.4 167.37h6.4M375.6 164.17v6.4" stroke="#0000ff" stroke-width="0.65"/>
<path d="M375.61 164.2h6.4M378.81 161v6.4" stroke="#0000ff" stroke-width="0.65"/>
<path d="M378.82 161.04h6.4M382.02 157.84v6.4" stroke="#0000ff" stroke-width="0.65"/>
<path d="M382.03 157.88h6.4M385.23 154.68v6.4" stroke="#0000ff" stroke-width="0.65"/>
<path d="M385.24 154.74h6.4M388.44 151.54v6.4" stroke="#0000ff" stroke-width="0.65"/>
<path d="M388.45 151.59h6.4M391.65 148.39v6.4" stroke="#0000ff" stroke-width="0.65"/>
<path d="M391.66 148.45h6.4M394.86 145.25v6.4" stroke="#0000ff" stroke-width="0.65"/>
<path d="M394.87 145.31h6.4M398.07 142.11v6.4" stroke="#0000ff" stroke-width="0.65"/>
<path d="M398.08 142.16h6.4M401.28 138.96v6.4" stroke="#0000ff" stroke-width="0.65"/>
<path d="M401.29 139.01h6.4M404.49 135.81v6.4" stroke="#0000ff" stroke-width="0.65"/>
<path d="M404.5 135.85h6.4M407.7 132.65v6.4" stroke="#0000ff" stroke-width="0.65"/>
<path d="M407.71 132.68h6.4M410.91 129.48v6.4" stroke="#0000ff" stroke-width="0.65"/>
<path d="M410.92 129.5h6.4M414.12 126.3v6.4" stroke="#0000ff" stroke-width="0.65"/>
<path d="M414.13 126.33h6.4M417.33 123.13v6.4" stroke="#0000ff" stroke-width="0.65"/>
<path d="M417.34 123.16h6.4M420.54 119.96v6.4" stroke="#0000ff" stroke-width="0.65"/>
<path d="M420.55 120.02h6.4M423.75 116.82v6.4" stroke="#0000ff" stroke-width="0.65"/>
<path d="M423.76 116.9h6.4M426.96 113.7v6.4" stroke="#0000ff" stroke-width="0.65"/>
<path d="M426.97 113.8h6.4M430.17 110.6v6.4" stroke="#0000ff" stroke-width="0.65"/>
<path d="M430.18 110.75h6.4M433.38 107.55v6.4" stroke="#0000ff" stroke-width="0.65"/>
<path d="M433.39 107.73h6.4M436.59 104.53v6.4" stroke="#0000ff" stroke-width="0.65"/>
<path d="M436.6 104.77h6.4M439.8 101.57v6.4" stroke="#0000ff" stroke-width="0.65"/>
<path d="M439.81 101.87h6.4M443.01 98.67v6.4" stroke="#0000ff" stroke-width="0.65"/>
<path d="M443.02 99.03h6.4M446.22 95.83v6.4" stroke="#0000ff" stroke-width="0.65"/>
<path d="M446.23 96.26h6.4M449.43 93.06v6.4" stroke="#0000ff" stroke-width="0.65"/>
<path d="M449.44 93.56h6.4M452.64 90.36v6.4" stroke="#0000ff" stroke-width="0.65"/>
<path d="M452.65 90.93h6.4M455.85 87.73v6.4" stroke="#0000ff" stroke-width="0.65"/>
<path d="M455.86 88.36h6.4M459.06 85.16v6.4" stroke="#0000ff" stroke-width="0.65"/>
<path d="M459.07 85.86h6.4M462.27 82.66v6.4" stroke="#0000ff" stroke-width="0.65"/>
<path d="M462.28 83.42h6.4M465.48 80.22v6.4" stroke="#0000ff" stroke-width="0.65"/>
<path d="M465.49 81.05h6.4M468.69 77.85v6.4" stroke="#0000ff" stroke-width="0.65"/>
<path d="M468.7 78.73h6.4M471.9 75.53v6.4" stroke="#0000ff" stroke-width="0.65"/>
<path d="M471.91 76.47h6.4M475.11 73.27v6.4" stroke="#0000ff" stroke-width="0.65"/>
<path d="M475.12 74.27h6.4M478.32 71.07v6.4" stroke="#0000ff" stroke-width="0.65"/>
<path d="M478.33 72.12h6.4M481.53 68.92v6.4" stroke="#0000ff" stroke-width="0.65"/>
<path d="M481.54 70.03h6.4M484.74 66.83v6.4" stroke="#0000ff" stroke-width="0.65"/>
<path d="M484.75 67.99h6.4M487.95 64.79v6.4" stroke="#0000ff" stroke-width="0.65"/>
<path d="M487.96 66h6.4M491.16 62.8v6.4" stroke="#0000ff" stroke-width="0.65"/>
<path d="M491.17 64.05h6.4M494.37 60.85v6.4" stroke="#0000ff" stroke-width="0.65"/>
<path d="M494.38 62.15h6.4M497.58 58.95v6.4" stroke="#0000ff" stroke-width="0.65"/>
<path d="M497.59 60.3h6.4M500.79 57.1v6.4" stroke="#0000ff" stroke-width="0.65"/>
<path d="M500.8 58.49h6.4M504 55.29v6.4" stroke="#0000ff" stroke-width="0.65"/>
<path d="M504.01 56.73h6.4M507.21 53.53v6.4" stroke="#0000ff" stroke-width="0.65"/>
<path d="M507.22 55h6.4M510.42 51.8v6.4" stroke="#0000ff" stroke-width="0.65"/>
<path d="M510.43 53.31h6.4M513.63 50.11v6.4" stroke="#0000ff" stroke-width="0.65"/>
<path d="M513.64 51.66h6.4M516.84 48.46v6.4" stroke="#0000ff" stroke-width="0.65"/>
<path d="M516.85 50.04h6.4M520.05 46.84v6.4" stroke="#0000ff" stroke-width="0.65"/>
<path d="M520.06 48.46h6.4M523.26 45.26v6.4" stroke="#0000ff" stroke-width="0.65"/>
<path d="M523.27 46.9h6.4M526.47 43.7v6.4" stroke="#0000ff" stroke-width="0.65"/>
<path d="M526.48 45.38h6.4M529.68 42.18v6.4" stroke="#0000ff" stroke-width="0.65"/>
<path d="M529.69 43.89h6.4M532.89 40.69v6.4" stroke="#0000ff" stroke-width="0.65"/>
<path d="M532.9 42.42h6.4M536.1 39.22v6.4" stroke="#0000ff" stroke-width="0.65"/>
</g>
<rect x="343.5" y="11.7" width="192.6" height="199.6" fill="none" stroke="#787878" stroke-width="1"/>
<line x1="343.5" y1="211.3" x2="343.5" y2="209.3" stroke="#787878" stroke-width="1"/>
<line x1="343.5" y1="11.7" x2="343.5" y2="13.7" stroke="#787878" stroke-width="1"/>
<text x="343.5" y="228.5" text-anchor="middle" font-size="11.4">0</text>
<line x1="407.7" y1="211.3" x2="407.7" y2="209.3" stroke="#787878" stroke-width="1"/>
<line x1="407.7" y1="11.7" x2="407.7" y2="13.7" stroke="#787878" stroke-width="1"/>
<text x="407.7" y="228.5" text-anchor="middle" font-size="11.4">20</text>
<line x1="471.9" y1="211.3" x2="471.9" y2="209.3" stroke="#787878" stroke-width="1"/>
<line x1="471.9" y1="11.7" x2="471.9" y2="13.7" stroke="#787878" stroke-width="1"/>
<text x="471.9" y="228.5" text-anchor="middle" font-size="11.4">40</text>
<line x1="536.1" y1="211.3" x2="536.1" y2="209.3" stroke="#787878" stroke-width="1"/>
<line x1="536.1" y1="11.7" x2="536.1" y2="13.7" stroke="#787878" stroke-width="1"/>
<text x="536.1" y="228.5" text-anchor="middle" font-size="11.4">60</text>
<line x1="343.5" y1="211.3" x2="345.5" y2="211.3" stroke="#787878" stroke-width="1"/>
<line x1="536.1" y1="211.3" x2="534.1" y2="211.3" stroke="#787878" stroke-width="1"/>
<text x="338.5" y="216" text-anchor="end" font-size="11.4">70</text>
<line x1="343.5" y1="182.79" x2="345.5" y2="182.79" stroke="#787878" stroke-width="1"/>
<line x1="536.1" y1="182.79" x2="534.1" y2="182.79" stroke="#787878" stroke-width="1"/>
<text x="338.5" y="187.49" text-anchor="end" font-size="11.4">75</text>
<line x1="343.5" y1="154.27" x2="345.5" y2="154.27" stroke="#787878" stroke-width="1"/>
<line x1="536.1" y1="154.27" x2="534.1" y2="154.27" stroke="#787878" stroke-width="1"/>
<text x="338.5" y="158.97" text-anchor="end" font-size="11.4">80</text>
<line x1="343.5" y1="125.76" x2="345.5" y2="125.76" stroke="#787878" stroke-width="1"/>
<line x1="536.1" y1="125.76" x2="534.1" y2="125.76" stroke="#787878" stroke-width="1"/>
<text x="338.5" y="130.46" text-anchor="end" font-size="11.4">85</text>
<line x1="343.5" y1="97.24" x2="345.5" y2="97.24" stroke="#787878" stroke-width="1"/>
<line x1="536.1" y1="97.24" x2="534.1" y2="97.24" stroke="#787878" stroke-width="1"/>
<text x="338.5" y="101.94" text-anchor="end" font-size="11.4">90</text>
<line x1="343.5" y1="68.73" x2="345.5" y2="68.73" stroke="#787878" stroke-width="1"/>
<line x1="536.1" y1="68.73" x2="534.1" y2="68.73" stroke="#787878" stroke-width="1"/>
<text x="338.5" y="73.43" text-anchor="end" font-size="11.4">95</text>
<line x1="343.5" y1="40.21" x2="345.5" y2="40.21" stroke="#787878" stroke-width="1"/>
<line x1="536.1" y1="40.21" x2="534.1" y2="40.21" stroke="#787878" stroke-width="1"/>
<text x="338.5" y="44.91" text-anchor="end" font-size="11.4">100</text>
<line x1="343.5" y1="11.7" x2="345.5" y2="11.7" stroke="#787878" stroke-width="1"/>
<line x1="536.1" y1="11.7" x2="534.1" y2="11.7" stroke="#787878" stroke-width="1"/>
<text x="338.5" y="16.4" text-anchor="end" font-size="11.4">105</text>
<text x="439.8" y="243.3" text-anchor="middle">Sample times/(times)</text>
<text x="314.8" y="111.5" text-anchor="middle" transform="rotate(-90 314 111.5)">Gravity anomaly/(mGal)</text>
<rect x="343.5" y="11.7" width="148.3" height="47.9" fill="#fff" stroke="#787878" stroke-width="1"/>
<polyline points="347.2,21.4 378.8,21.4" fill="none" stroke="#ff00ff" stroke-width="0.8" stroke-opacity="0.6" stroke-linejoin="round" />
<circle cx="362.5" cy="21.4" r="3.3" fill="none" stroke="#ff00ff" stroke-width="0.9"/>
<polyline points="347.2,36.2 378.8,36.2" fill="none" stroke="#d95319" stroke-width="0.8" stroke-opacity="0.6" stroke-linejoin="round" />
<path d="M359.5 36.2h6M362.5 33.2v6M360.38 34.08l4.24 4.24M360.38 38.32l4.24 -4.24" stroke="#d95319" stroke-width="0.8"/>
<polyline points="347.2,51.3 378.8,51.3" fill="none" stroke="#0000ff" stroke-width="0.8" stroke-opacity="0.6" stroke-linejoin="round" />
<path d="M359.3 51.3h6.4M362.5 48.1v6.4" stroke="#0000ff" stroke-width="0.65"/>
<defs><clipPath id="cl343"><rect x="343.5" y="11.7" width="148.3" height="47.9"/></clipPath></defs>
<g clip-path="url(#cl343)">
<text x="381.5" y="25.5" font-size="11.5">Simulated Data</text>
<text x="381.5" y="40.3" font-size="11.5">Measurement Error</text>
<text x="381.5" y="55.4" font-size="11.5">Matching Result</text>
</g>
<defs><clipPath id="cc"><rect x="47.6" y="281" width="189.8" height="199"/></clipPath></defs>
<g clip-path="url(#cc)">
<path d="M45 289.5C45.43 289.58 44.57 289.13 47.6 290C50.63 290.87 53.88 292.57 63.2 294.7C72.52 296.83 89.03 299.42 103.5 302.8C117.97 306.18 133.92 312.47 150 315C166.08 317.53 185 318.5 200 318C215 317.5 233.33 313 240 312" fill="none" stroke="#f7c480" stroke-width="1.1" stroke-opacity="1"/>
<path d="M45 326.5C45.43 326.58 44.17 326.2 47.6 327C51.03 327.8 56.28 329.43 65.6 331.3C74.92 333.17 94.77 336.25 103.5 338.2C112.23 340.15 114.18 341.7 118 343C121.82 344.3 122.47 344.23 126.4 346C130.33 347.77 135.28 351.18 141.6 353.6C147.92 356.02 159.27 359.07 164.3 360.5C169.33 361.93 164.88 362.4 171.8 362.2C178.72 362 194.98 360.95 205.8 359.3C216.62 357.65 231 353.58 236.7 352.3C242.4 351.02 239.45 351.72 240 351.6" fill="none" stroke="#64d0b4" stroke-width="1.1" stroke-opacity="1"/>
<path d="M45 361.3C45.43 361.38 43.07 360.88 47.6 361.8C52.13 362.72 63.25 365.12 72.2 366.8C81.15 368.48 95 370.42 101.3 371.9C107.6 373.38 104.35 373.08 110 375.7C115.65 378.32 125.95 384.03 135.2 387.6C144.45 391.17 159.4 395.23 165.5 397.1C171.6 398.97 165.5 399.12 171.8 398.8C178.1 398.48 192.48 396.85 203.3 395.2C214.12 393.55 230.58 390.05 236.7 388.9C242.82 387.75 239.45 388.4 240 388.3" fill="none" stroke="#56b2ec" stroke-width="1.1" stroke-opacity="1"/>
<path d="M45 398.9C45.43 398.92 44.12 398.77 47.6 399C51.08 399.23 56.95 398.83 65.9 400.3C74.85 401.77 93.95 405.85 101.3 407.8C108.65 409.75 105.52 410 110 412C114.48 414 121.05 417.2 128.2 419.8C135.35 422.4 145.97 425.43 152.9 427.6C159.83 429.77 161.68 432.03 169.8 432.8C177.92 433.57 190.33 433.07 201.6 432.2C212.87 431.33 231 428.43 237.4 427.6C243.8 426.77 239.57 427.27 240 427.2" fill="none" stroke="#8682f0" stroke-width="1.1" stroke-opacity="1"/>
<path d="M45 438.9C45.43 438.87 44.02 438.95 47.6 438.7C51.18 438.45 62.27 437.4 66.5 437.4C70.73 437.4 67.15 437.4 73 438.7C78.85 440 95.1 443.48 101.6 445.2C108.1 446.92 106.27 447.05 112 449C117.73 450.95 127.23 453.97 136 456.9C144.77 459.83 158.75 464.65 164.6 466.6C170.45 468.55 164.28 467.9 171.1 468.6C177.92 469.3 194.45 470.32 205.5 470.8C216.55 471.28 231.65 471.37 237.4 471.5C243.15 471.63 239.57 471.58 240 471.6" fill="none" stroke="#8a80da" stroke-width="1.1" stroke-opacity="1"/>
<path d="M65.49 417.2h6.4M68.69 414v6.4" stroke="#3a3aff" stroke-width="0.55"/>
<path d="M67.41 417.2h6.4M70.61 414v6.4" stroke="#3a3aff" stroke-width="0.55"/>
<path d="M69.32 417.2h6.4M72.52 414v6.4" stroke="#3a3aff" stroke-width="0.55"/>
<path d="M71.24 417.2h6.4M74.44 414v6.4" stroke="#3a3aff" stroke-width="0.55"/>
<path d="M73.16 417.2h6.4M76.36 414v6.4" stroke="#3a3aff" stroke-width="0.55"/>
<path d="M75.07 417.2h6.4M78.27 414v6.4" stroke="#3a3aff" stroke-width="0.55"/>
<path d="M76.99 417.2h6.4M80.19 414v6.4" stroke="#3a3aff" stroke-width="0.55"/>
<path d="M78.91 417.2h6.4M82.11 414v6.4" stroke="#3a3aff" stroke-width="0.55"/>
<path d="M80.83 417.2h6.4M84.03 414v6.4" stroke="#3a3aff" stroke-width="0.55"/>
<path d="M82.74 417.2h6.4M85.94 414v6.4" stroke="#3a3aff" stroke-width="0.55"/>
<path d="M84.66 417.2h6.4M87.86 414v6.4" stroke="#3a3aff" stroke-width="0.55"/>
<path d="M86.58 417.2h6.4M89.78 414v6.4" stroke="#3a3aff" stroke-width="0.55"/>
<path d="M88.49 417.2h6.4M91.69 414v6.4" stroke="#3a3aff" stroke-width="0.55"/>
<path d="M90.41 417.2h6.4M93.61 414v6.4" stroke="#3a3aff" stroke-width="0.55"/>
<path d="M92.33 417.2h6.4M95.53 414v6.4" stroke="#3a3aff" stroke-width="0.55"/>
<path d="M94.25 417.2h6.4M97.45 414v6.4" stroke="#3a3aff" stroke-width="0.55"/>
<path d="M96.16 417.2h6.4M99.36 414v6.4" stroke="#3a3aff" stroke-width="0.55"/>
<path d="M98.08 417.2h6.4M101.28 414v6.4" stroke="#3a3aff" stroke-width="0.55"/>
<path d="M100 417.2h6.4M103.2 414v6.4" stroke="#3a3aff" stroke-width="0.55"/>
<path d="M101.92 417.2h6.4M105.12 414v6.4" stroke="#3a3aff" stroke-width="0.55"/>
<path d="M103.83 417.2h6.4M107.03 414v6.4" stroke="#3a3aff" stroke-width="0.55"/>
<path d="M105.75 417.2h6.4M108.95 414v6.4" stroke="#3a3aff" stroke-width="0.55"/>
<path d="M107.67 417.2h6.4M110.87 414v6.4" stroke="#3a3aff" stroke-width="0.55"/>
<path d="M109.58 417.2h6.4M112.78 414v6.4" stroke="#3a3aff" stroke-width="0.55"/>
<path d="M111.5 417.2h6.4M114.7 414v6.4" stroke="#3a3aff" stroke-width="0.55"/>
<path d="M113.42 417.2h6.4M116.62 414v6.4" stroke="#3a3aff" stroke-width="0.55"/>
<path d="M115.34 417.2h6.4M118.54 414v6.4" stroke="#3a3aff" stroke-width="0.55"/>
<path d="M117.25 417.2h6.4M120.45 414v6.4" stroke="#3a3aff" stroke-width="0.55"/>
<path d="M119.17 417.2h6.4M122.37 414v6.4" stroke="#3a3aff" stroke-width="0.55"/>
<path d="M121.09 417.2h6.4M124.29 414v6.4" stroke="#3a3aff" stroke-width="0.55"/>
<path d="M123 417.2h6.4M126.2 414v6.4" stroke="#3a3aff" stroke-width="0.55"/>
<path d="M124.92 417.2h6.4M128.12 414v6.4" stroke="#3a3aff" stroke-width="0.55"/>
<path d="M126.84 417.2h6.4M130.04 414v6.4" stroke="#3a3aff" stroke-width="0.55"/>
<path d="M128.76 417.2h6.4M131.96 414v6.4" stroke="#3a3aff" stroke-width="0.55"/>
<path d="M130.67 417.2h6.4M133.87 414v6.4" stroke="#3a3aff" stroke-width="0.55"/>
<path d="M132.59 417.2h6.4M135.79 414v6.4" stroke="#3a3aff" stroke-width="0.55"/>
<path d="M134.51 417.2h6.4M137.71 414v6.4" stroke="#3a3aff" stroke-width="0.55"/>
<path d="M136.42 417.2h6.4M139.62 414v6.4" stroke="#3a3aff" stroke-width="0.55"/>
<path d="M138.34 417.2h6.4M141.54 414v6.4" stroke="#3a3aff" stroke-width="0.55"/>
<path d="M140.26 417.2h6.4M143.46 414v6.4" stroke="#3a3aff" stroke-width="0.55"/>
<path d="M142.18 417.2h6.4M145.38 414v6.4" stroke="#3a3aff" stroke-width="0.55"/>
<path d="M144.09 417.2h6.4M147.29 414v6.4" stroke="#3a3aff" stroke-width="0.55"/>
<polyline points="66.29,417.2 150.09,417.2" fill="none" stroke="#0000ff" stroke-width="0.7" stroke-opacity="0.8" stroke-linejoin="round" />
<circle cx="78.27" cy="423.8" r="3.3" fill="none" stroke="#ff00ff" stroke-width="0.9"/>
<circle cx="80.19" cy="423.8" r="3.3" fill="none" stroke="#ff00ff" stroke-width="0.9"/>
<circle cx="82.11" cy="423.8" r="3.3" fill="none" stroke="#ff00ff" stroke-width="0.9"/>
<circle cx="84.03" cy="423.8" r="3.3" fill="none" stroke="#ff00ff" stroke-width="0.9"/>
<circle cx="85.94" cy="423.8" r="3.3" fill="none" stroke="#ff00ff" stroke-width="0.9"/>
<circle cx="87.86" cy="423.8" r="3.3" fill="none" stroke="#ff00ff" stroke-width="0.9"/>
<circle cx="89.78" cy="423.8" r="3.3" fill="none" stroke="#ff00ff" stroke-width="0.9"/>
<circle cx="91.69" cy="423.8" r="3.3" fill="none" stroke="#ff00ff" stroke-width="0.9"/>
<circle cx="93.61" cy="423.8" r="3.3" fill="none" stroke="#ff00ff" stroke-width="0.9"/>
<circle cx="95.53" cy="423.8" r="3.3" fill="none" stroke="#ff00ff" stroke-width="0.9"/>
<circle cx="97.45" cy="423.8" r="3.3" fill="none" stroke="#ff00ff" stroke-width="0.9"/>
<circle cx="99.36" cy="423.8" r="3.3" fill="none" stroke="#ff00ff" stroke-width="0.9"/>
<circle cx="101.28" cy="423.8" r="3.3" fill="none" stroke="#ff00ff" stroke-width="0.9"/>
<circle cx="103.2" cy="423.8" r="3.3" fill="none" stroke="#ff00ff" stroke-width="0.9"/>
<circle cx="105.12" cy="423.8" r="3.3" fill="none" stroke="#ff00ff" stroke-width="0.9"/>
<circle cx="107.03" cy="423.8" r="3.3" fill="none" stroke="#ff00ff" stroke-width="0.9"/>
<circle cx="108.95" cy="423.8" r="3.3" fill="none" stroke="#ff00ff" stroke-width="0.9"/>
<circle cx="110.87" cy="423.8" r="3.3" fill="none" stroke="#ff00ff" stroke-width="0.9"/>
<circle cx="112.78" cy="423.8" r="3.3" fill="none" stroke="#ff00ff" stroke-width="0.9"/>
<circle cx="114.7" cy="423.8" r="3.3" fill="none" stroke="#ff00ff" stroke-width="0.9"/>
<circle cx="116.62" cy="423.8" r="3.3" fill="none" stroke="#ff00ff" stroke-width="0.9"/>
<circle cx="118.54" cy="423.8" r="3.3" fill="none" stroke="#ff00ff" stroke-width="0.9"/>
<circle cx="120.45" cy="423.8" r="3.3" fill="none" stroke="#ff00ff" stroke-width="0.9"/>
<circle cx="122.37" cy="423.8" r="3.3" fill="none" stroke="#ff00ff" stroke-width="0.9"/>
<circle cx="124.29" cy="423.8" r="3.3" fill="none" stroke="#ff00ff" stroke-width="0.9"/>
<circle cx="126.2" cy="423.8" r="3.3" fill="none" stroke="#ff00ff" stroke-width="0.9"/>
<circle cx="128.12" cy="423.8" r="3.3" fill="none" stroke="#ff00ff" stroke-width="0.9"/>
<circle cx="130.04" cy="423.8" r="3.3" fill="none" stroke="#ff00ff" stroke-width="0.9"/>
<circle cx="131.96" cy="423.8" r="3.3" fill="none" stroke="#ff00ff" stroke-width="0.9"/>
<circle cx="133.87" cy="423.8" r="3.3" fill="none" stroke="#ff00ff" stroke-width="0.9"/>
<circle cx="135.79" cy="423.8" r="3.3" fill="none" stroke="#ff00ff" stroke-width="0.9"/>
<circle cx="137.71" cy="423.8" r="3.3" fill="none" stroke="#ff00ff" stroke-width="0.9"/>
<circle cx="139.62" cy="423.8" r="3.3" fill="none" stroke="#ff00ff" stroke-width="0.9"/>
<circle cx="141.54" cy="423.8" r="3.3" fill="none" stroke="#ff00ff" stroke-width="0.9"/>
<circle cx="143.46" cy="423.8" r="3.3" fill="none" stroke="#ff00ff" stroke-width="0.9"/>
<circle cx="145.38" cy="423.8" r="3.3" fill="none" stroke="#ff00ff" stroke-width="0.9"/>
<circle cx="147.29" cy="423.8" r="3.3" fill="none" stroke="#ff00ff" stroke-width="0.9"/>
<circle cx="149.21" cy="423.8" r="3.3" fill="none" stroke="#ff00ff" stroke-width="0.9"/>
<circle cx="151.13" cy="423.8" r="3.3" fill="none" stroke="#ff00ff" stroke-width="0.9"/>
<circle cx="153.04" cy="423.8" r="3.3" fill="none" stroke="#ff00ff" stroke-width="0.9"/>
<circle cx="154.96" cy="423.8" r="3.3" fill="none" stroke="#ff00ff" stroke-width="0.9"/>
<polyline points="78.27,423.8 154.96,423.8" fill="none" stroke="#ff00ff" stroke-width="1.0" stroke-opacity="1.0" stroke-linejoin="round" />
<polyline points="71.56,432.2 148.25,432.2" fill="none" stroke="#d95319" stroke-width="1.0" stroke-opacity="1.0" stroke-linejoin="round" />
<path d="M68.56 432.2h6M71.56 429.2v6M69.44 430.08l4.24 4.24M69.44 434.32l4.24 -4.24" stroke="#d95319" stroke-width="0.8"/>
<path d="M70.48 432.2h6M73.48 429.2v6M71.36 430.08l4.24 4.24M71.36 434.32l4.24 -4.24" stroke="#d95319" stroke-width="0.8"/>
<path d="M72.4 432.2h6M75.4 429.2v6M73.28 430.08l4.24 4.24M73.28 434.32l4.24 -4.24" stroke="#d95319" stroke-width="0.8"/>
<path d="M74.32 432.2h6M77.32 429.2v6M75.2 430.08l4.24 4.24M75.2 434.32l4.24 -4.24" stroke="#d95319" stroke-width="0.8"/>
<path d="M76.23 432.2h6M79.23 429.2v6M77.11 430.08l4.24 4.24M77.11 434.32l4.24 -4.24" stroke="#d95319" stroke-width="0.8"/>
<path d="M78.15 432.2h6M81.15 429.2v6M79.03 430.08l4.24 4.24M79.03 434.32l4.24 -4.24" stroke="#d95319" stroke-width="0.8"/>
<path d="M80.07 432.2h6M83.07 429.2v6M80.95 430.08l4.24 4.24M80.95 434.32l4.24 -4.24" stroke="#d95319" stroke-width="0.8"/>
<path d="M81.98 432.2h6M84.98 429.2v6M82.86 430.08l4.24 4.24M82.86 434.32l4.24 -4.24" stroke="#d95319" stroke-width="0.8"/>
<path d="M83.9 432.2h6M86.9 429.2v6M84.78 430.08l4.24 4.24M84.78 434.32l4.24 -4.24" stroke="#d95319" stroke-width="0.8"/>
<path d="M85.82 432.2h6M88.82 429.2v6M86.7 430.08l4.24 4.24M86.7 434.32l4.24 -4.24" stroke="#d95319" stroke-width="0.8"/>
<path d="M87.74 432.2h6M90.74 429.2v6M88.62 430.08l4.24 4.24M88.62 434.32l4.24 -4.24" stroke="#d95319" stroke-width="0.8"/>
<path d="M89.65 432.2h6M92.65 429.2v6M90.53 430.08l4.24 4.24M90.53 434.32l4.24 -4.24" stroke="#d95319" stroke-width="0.8"/>
<path d="M91.57 432.2h6M94.57 429.2v6M92.45 430.08l4.24 4.24M92.45 434.32l4.24 -4.24" stroke="#d95319" stroke-width="0.8"/>
<path d="M93.49 432.2h6M96.49 429.2v6M94.37 430.08l4.24 4.24M94.37 434.32l4.24 -4.24" stroke="#d95319" stroke-width="0.8"/>
<path d="M95.41 432.2h6M98.41 429.2v6M96.28 430.08l4.24 4.24M96.28 434.32l4.24 -4.24" stroke="#d95319" stroke-width="0.8"/>
<path d="M97.32 432.2h6M100.32 429.2v6M98.2 430.08l4.24 4.24M98.2 434.32l4.24 -4.24" stroke="#d95319" stroke-width="0.8"/>
<path d="M99.24 432.2h6M102.24 429.2v6M100.12 430.08l4.24 4.24M100.12 434.32l4.24 -4.24" stroke="#d95319" stroke-width="0.8"/>
<path d="M101.16 432.2h6M104.16 429.2v6M102.04 430.08l4.24 4.24M102.04 434.32l4.24 -4.24" stroke="#d95319" stroke-width="0.8"/>
<path d="M103.07 432.2h6M106.07 429.2v6M103.95 430.08l4.24 4.24M103.95 434.32l4.24 -4.24" stroke="#d95319" stroke-width="0.8"/>
<path d="M104.99 432.2h6M107.99 429.2v6M105.87 430.08l4.24 4.24M105.87 434.32l4.24 -4.24" stroke="#d95319" stroke-width="0.8"/>
<path d="M106.91 432.2h6M109.91 429.2v6M107.79 430.08l4.24 4.24M107.79 434.32l4.24 -4.24" stroke="#d95319" stroke-width="0.8"/>
<path d="M108.83 432.2h6M111.83 429.2v6M109.7 430.08l4.24 4.24M109.7 434.32l4.24 -4.24" stroke="#d95319" stroke-width="0.8"/>
<path d="M110.74 432.2h6M113.74 429.2v6M111.62 430.08l4.24 4.24M111.62 434.32l4.24 -4.24" stroke="#d95319" stroke-width="0.8"/>
<path d="M112.66 432.2h6M115.66 429.2v6M113.54 430.08l4.24 4.24M113.54 434.32l4.24 -4.24" stroke="#d95319" stroke-width="0.8"/>
<path d="M114.58 432.2h6M117.58 429.2v6M115.46 430.08l4.24 4.24M115.46 434.32l4.24 -4.24" stroke="#d95319" stroke-width="0.8"/>
<path d="M116.49 432.2h6M119.49 429.2v6M117.37 430.08l4.24 4.24M117.37 434.32l4.24 -4.24" stroke="#d95319" stroke-width="0.8"/>
<path d="M118.41 432.2h6M121.41 429.2v6M119.29 430.08l4.24 4.24M119.29 434.32l4.24 -4.24" stroke="#d95319" stroke-width="0.8"/>
<path d="M120.33 432.2h6M123.33 429.2v6M121.21 430.08l4.24 4.24M121.21 434.32l4.24 -4.24" stroke="#d95319" stroke-width="0.8"/>
<path d="M122.25 432.2h6M125.25 429.2v6M123.12 430.08l4.24 4.24M123.12 434.32l4.24 -4.24" stroke="#d95319" stroke-width="0.8"/>
<path d="M124.16 432.2h6M127.16 429.2v6M125.04 430.08l4.24 4.24M125.04 434.32l4.24 -4.24" stroke="#d95319" stroke-width="0.8"/>
<path d="M126.08 432.2h6M129.08 429.2v6M126.96 430.08l4.24 4.24M126.96 434.32l4.24 -4.24" stroke="#d95319" stroke-width="0.8"/>
<path d="M128 432.2h6M131 429.2v6M128.88 430.08l4.24 4.24M128.88 434.32l4.24 -4.24" stroke="#d95319" stroke-width="0.8"/>
<path d="M129.91 432.2h6M132.91 429.2v6M130.79 430.08l4.24 4.24M130.79 434.32l4.24 -4.24" stroke="#d95319" stroke-width="0.8"/>
<path d="M131.83 432.2h6M134.83 429.2v6M132.71 430.08l4.24 4.24M132.71 434.32l4.24 -4.24" stroke="#d95319" stroke-width="0.8"/>
<path d="M133.75 432.2h6M136.75 429.2v6M134.63 430.08l4.24 4.24M134.63 434.32l4.24 -4.24" stroke="#d95319" stroke-width="0.8"/>
<path d="M135.67 432.2h6M138.67 429.2v6M136.54 430.08l4.24 4.24M136.54 434.32l4.24 -4.24" stroke="#d95319" stroke-width="0.8"/>
<path d="M137.58 432.2h6M140.58 429.2v6M138.46 430.08l4.24 4.24M138.46 434.32l4.24 -4.24" stroke="#d95319" stroke-width="0.8"/>
<path d="M139.5 432.2h6M142.5 429.2v6M140.38 430.08l4.24 4.24M140.38 434.32l4.24 -4.24" stroke="#d95319" stroke-width="0.8"/>
<path d="M141.42 432.2h6M144.42 429.2v6M142.3 430.08l4.24 4.24M142.3 434.32l4.24 -4.24" stroke="#d95319" stroke-width="0.8"/>
<path d="M143.33 432.2h6M146.33 429.2v6M144.21 430.08l4.24 4.24M144.21 434.32l4.24 -4.24" stroke="#d95319" stroke-width="0.8"/>
<path d="M145.25 432.2h6M148.25 429.2v6M146.13 430.08l4.24 4.24M146.13 434.32l4.24 -4.24" stroke="#d95319" stroke-width="0.8"/>
</g>
<rect x="47.6" y="281" width="189.8" height="199" fill="none" stroke="#787878" stroke-width="1"/>
<line x1="84.03" y1="480" x2="84.03" y2="478" stroke="#787878" stroke-width="1"/>
<line x1="84.03" y1="281" x2="84.03" y2="283" stroke="#787878" stroke-width="1"/>
<text x="84.03" y="497.9" text-anchor="middle" font-size="11.4">20</text>
<line x1="122.37" y1="480" x2="122.37" y2="478" stroke="#787878" stroke-width="1"/>
<line x1="122.37" y1="281" x2="122.37" y2="283" stroke="#787878" stroke-width="1"/>
<text x="122.37" y="497.9" text-anchor="middle" font-size="11.4">40</text>
<line x1="160.71" y1="480" x2="160.71" y2="478" stroke="#787878" stroke-width="1"/>
<line x1="160.71" y1="281" x2="160.71" y2="283" stroke="#787878" stroke-width="1"/>
<text x="160.71" y="497.9" text-anchor="middle" font-size="11.4">60</text>
<line x1="199.06" y1="480" x2="199.06" y2="478" stroke="#787878" stroke-width="1"/>
<line x1="199.06" y1="281" x2="199.06" y2="283" stroke="#787878" stroke-width="1"/>
<text x="199.06" y="497.9" text-anchor="middle" font-size="11.4">80</text>
<line x1="237.4" y1="480" x2="237.4" y2="478" stroke="#787878" stroke-width="1"/>
<line x1="237.4" y1="281" x2="237.4" y2="283" stroke="#787878" stroke-width="1"/>
<text x="237.4" y="497.9" text-anchor="middle" font-size="11.4">100</text>
<line x1="47.6" y1="441.81" x2="49.6" y2="441.81" stroke="#787878" stroke-width="1"/>
<line x1="237.4" y1="441.81" x2="235.4" y2="441.81" stroke="#787878" stroke-width="1"/>
<text x="42.6" y="446.51" text-anchor="end" font-size="11.4">20</text>
<line x1="47.6" y1="401.61" x2="49.6" y2="401.61" stroke="#787878" stroke-width="1"/>
<line x1="237.4" y1="401.61" x2="235.4" y2="401.61" stroke="#787878" stroke-width="1"/>
<text x="42.6" y="406.31" text-anchor="end" font-size="11.4">40</text>
<line x1="47.6" y1="361.4" x2="49.6" y2="361.4" stroke="#787878" stroke-width="1"/>
<line x1="237.4" y1="361.4" x2="235.4" y2="361.4" stroke="#787878" stroke-width="1"/>
<text x="42.6" y="366.1" text-anchor="end" font-size="11.4">60</text>
<line x1="47.6" y1="321.2" x2="49.6" y2="321.2" stroke="#787878" stroke-width="1"/>
<line x1="237.4" y1="321.2" x2="235.4" y2="321.2" stroke="#787878" stroke-width="1"/>
<text x="42.6" y="325.9" text-anchor="end" font-size="11.4">80</text>
<line x1="47.6" y1="281" x2="49.6" y2="281" stroke="#787878" stroke-width="1"/>
<line x1="237.4" y1="281" x2="235.4" y2="281" stroke="#787878" stroke-width="1"/>
<text x="42.6" y="285.7" text-anchor="end" font-size="11.4">100</text>
<text x="142.5" y="512.9" text-anchor="middle">Eastward/(grid)</text>
<text x="19" y="380.5" text-anchor="middle" transform="rotate(-90 18.2 380.5)">Northward/(grid)</text>
<rect x="104.5" y="281" width="132.5" height="64.6" fill="#fff" stroke="#787878" stroke-width="1"/>
<ellipse cx="123.6" cy="289.4" rx="16.2" ry="5.8" fill="none" stroke="#3e26a8" stroke-width="1" stroke-opacity="0.65"/>
<ellipse cx="123.6" cy="289.4" rx="11.4" ry="3.6" fill="none" stroke="#18b6d2" stroke-width="1" stroke-opacity="0.7"/>
<ellipse cx="123.6" cy="289.4" rx="5.5" ry="1.95" fill="none" stroke="#f5ea2a" stroke-width="1" stroke-opacity="0.8"/>
<polyline points="107.8,305.3 139.6,305.3" fill="none" stroke="#ff00ff" stroke-width="0.8" stroke-opacity="0.6" stroke-linejoin="round" />
<circle cx="123.6" cy="305.3" r="3.3" fill="none" stroke="#ff00ff" stroke-width="0.9"/>
<polyline points="107.8,320.9 139.6,320.9" fill="none" stroke="#d95319" stroke-width="0.8" stroke-opacity="0.6" stroke-linejoin="round" />
<path d="M120.6 320.9h6M123.6 317.9v6M121.48 318.78l4.24 4.24M121.48 323.02l4.24 -4.24" stroke="#d95319" stroke-width="0.8"/>
<polyline points="107.8,336.7 139.6,336.7" fill="none" stroke="#0000ff" stroke-width="0.8" stroke-opacity="0.6" stroke-linejoin="round" />
<path d="M120.4 336.7h6.4M123.6 333.5v6.4" stroke="#0000ff" stroke-width="0.65"/>
<text x="142.6" y="293.7" font-size="11.7">Gravity anomaly</text>
<text x="142.6" y="309.6" font-size="11.7">Simulated route</text>
<text x="142.6" y="325.3" font-size="11.7">INS route</text>
<text x="142.6" y="341.3" font-size="11.7">Matching route</text>
<defs><clipPath id="cd"><rect x="340.4" y="280.8" width="195.7" height="199.4"/></clipPath></defs>
<g clip-path="url(#cd)">
<polyline points="343.66,415.06 346.92,414.54 350.19,414 353.45,413.45 356.71,412.89 359.97,412.33 363.23,411.75 366.49,411.16 369.75,410.57 373.02,409.96 376.28,409.35 379.54,408.72 382.8,408.08 386.06,407.44 389.32,406.79 392.59,406.12 395.85,405.45 399.11,404.76 402.37,404.07 405.63,403.36 408.89,402.65 412.16,401.93 415.42,401.19 418.68,400.45 421.94,399.7 425.2,398.94 428.47,398.17 431.73,397.38 434.99,396.59 438.25,395.79 441.51,394.98 444.77,394.16 448.04,393.33 451.3,392.49 454.56,391.64 457.82,390.78 461.08,389.91 464.34,389.03 467.61,388.14 470.87,387.24 474.13,386.33 477.39,385.41 480.65,384.48 483.91,383.55 487.18,382.6 490.44,381.64 493.7,380.67 496.96,379.7 500.22,378.71 503.48,377.71 506.75,376.71 510.01,375.69 513.27,374.66 516.53,373.63 519.79,372.58 523.05,371.53 526.32,370.46 529.58,369.39 532.84,368.3 536.1,367.21" fill="none" stroke="#ff00ff" stroke-width="1.0" stroke-opacity="1.0" stroke-linejoin="round" />
<circle cx="343.66" cy="415.06" r="3.5" fill="none" stroke="#ff00ff" stroke-width="0.9"/>
<circle cx="346.92" cy="414.54" r="3.5" fill="none" stroke="#ff00ff" stroke-width="0.9"/>
<circle cx="350.19" cy="414" r="3.5" fill="none" stroke="#ff00ff" stroke-width="0.9"/>
<circle cx="353.45" cy="413.45" r="3.5" fill="none" stroke="#ff00ff" stroke-width="0.9"/>
<circle cx="356.71" cy="412.89" r="3.5" fill="none" stroke="#ff00ff" stroke-width="0.9"/>
<circle cx="359.97" cy="412.33" r="3.5" fill="none" stroke="#ff00ff" stroke-width="0.9"/>
<circle cx="363.23" cy="411.75" r="3.5" fill="none" stroke="#ff00ff" stroke-width="0.9"/>
<circle cx="366.49" cy="411.16" r="3.5" fill="none" stroke="#ff00ff" stroke-width="0.9"/>
<circle cx="369.75" cy="410.57" r="3.5" fill="none" stroke="#ff00ff" stroke-width="0.9"/>
<circle cx="373.02" cy="409.96" r="3.5" fill="none" stroke="#ff00ff" stroke-width="0.9"/>
<circle cx="376.28" cy="409.35" r="3.5" fill="none" stroke="#ff00ff" stroke-width="0.9"/>
<circle cx="379.54" cy="408.72" r="3.5" fill="none" stroke="#ff00ff" stroke-width="0.9"/>
<circle cx="382.8" cy="408.08" r="3.5" fill="none" stroke="#ff00ff" stroke-width="0.9"/>
<circle cx="386.06" cy="407.44" r="3.5" fill="none" stroke="#ff00ff" stroke-width="0.9"/>
<circle cx="389.32" cy="406.79" r="3.5" fill="none" stroke="#ff00ff" stroke-width="0.9"/>
<circle cx="392.59" cy="406.12" r="3.5" fill="none" stroke="#ff00ff" stroke-width="0.9"/>
<circle cx="395.85" cy="405.45" r="3.5" fill="none" stroke="#ff00ff" stroke-width="0.9"/>
<circle cx="399.11" cy="404.76" r="3.5" fill="none" stroke="#ff00ff" stroke-width="0.9"/>
<circle cx="402.37" cy="404.07" r="3.5" fill="none" stroke="#ff00ff" stroke-width="0.9"/>
<circle cx="405.63" cy="403.36" r="3.5" fill="none" stroke="#ff00ff" stroke-width="0.9"/>
<circle cx="408.89" cy="402.65" r="3.5" fill="none" stroke="#ff00ff" stroke-width="0.9"/>
<circle cx="412.16" cy="401.93" r="3.5" fill="none" stroke="#ff00ff" stroke-width="0.9"/>
<circle cx="415.42" cy="401.19" r="3.5" fill="none" stroke="#ff00ff" stroke-width="0.9"/>
<circle cx="418.68" cy="400.45" r="3.5" fill="none" stroke="#ff00ff" stroke-width="0.9"/>
<circle cx="421.94" cy="399.7" r="3.5" fill="none" stroke="#ff00ff" stroke-width="0.9"/>
<circle cx="425.2" cy="398.94" r="3.5" fill="none" stroke="#ff00ff" stroke-width="0.9"/>
<circle cx="428.47" cy="398.17" r="3.5" fill="none" stroke="#ff00ff" stroke-width="0.9"/>
<circle cx="431.73" cy="397.38" r="3.5" fill="none" stroke="#ff00ff" stroke-width="0.9"/>
<circle cx="434.99" cy="396.59" r="3.5" fill="none" stroke="#ff00ff" stroke-width="0.9"/>
<circle cx="438.25" cy="395.79" r="3.5" fill="none" stroke="#ff00ff" stroke-width="0.9"/>
<circle cx="441.51" cy="394.98" r="3.5" fill="none" stroke="#ff00ff" stroke-width="0.9"/>
<circle cx="444.77" cy="394.16" r="3.5" fill="none" stroke="#ff00ff" stroke-width="0.9"/>
<circle cx="448.04" cy="393.33" r="3.5" fill="none" stroke="#ff00ff" stroke-width="0.9"/>
<circle cx="451.3" cy="392.49" r="3.5" fill="none" stroke="#ff00ff" stroke-width="0.9"/>
<circle cx="454.56" cy="391.64" r="3.5" fill="none" stroke="#ff00ff" stroke-width="0.9"/>
<circle cx="457.82" cy="390.78" r="3.5" fill="none" stroke="#ff00ff" stroke-width="0.9"/>
<circle cx="461.08" cy="389.91" r="3.5" fill="none" stroke="#ff00ff" stroke-width="0.9"/>
<circle cx="464.34" cy="389.03" r="3.5" fill="none" stroke="#ff00ff" stroke-width="0.9"/>
<circle cx="467.61" cy="388.14" r="3.5" fill="none" stroke="#ff00ff" stroke-width="0.9"/>
<circle cx="470.87" cy="387.24" r="3.5" fill="none" stroke="#ff00ff" stroke-width="0.9"/>
<circle cx="474.13" cy="386.33" r="3.5" fill="none" stroke="#ff00ff" stroke-width="0.9"/>
<circle cx="477.39" cy="385.41" r="3.5" fill="none" stroke="#ff00ff" stroke-width="0.9"/>
<circle cx="480.65" cy="384.48" r="3.5" fill="none" stroke="#ff00ff" stroke-width="0.9"/>
<circle cx="483.91" cy="383.55" r="3.5" fill="none" stroke="#ff00ff" stroke-width="0.9"/>
<circle cx="487.18" cy="382.6" r="3.5" fill="none" stroke="#ff00ff" stroke-width="0.9"/>
<circle cx="490.44" cy="381.64" r="3.5" fill="none" stroke="#ff00ff" stroke-width="0.9"/>
<circle cx="493.7" cy="380.67" r="3.5" fill="none" stroke="#ff00ff" stroke-width="0.9"/>
<circle cx="496.96" cy="379.7" r="3.5" fill="none" stroke="#ff00ff" stroke-width="0.9"/>
<circle cx="500.22" cy="378.71" r="3.5" fill="none" stroke="#ff00ff" stroke-width="0.9"/>
<circle cx="503.48" cy="377.71" r="3.5" fill="none" stroke="#ff00ff" stroke-width="0.9"/>
<circle cx="506.75" cy="376.71" r="3.5" fill="none" stroke="#ff00ff" stroke-width="0.9"/>
<circle cx="510.01" cy="375.69" r="3.5" fill="none" stroke="#ff00ff" stroke-width="0.9"/>
<circle cx="513.27" cy="374.66" r="3.5" fill="none" stroke="#ff00ff" stroke-width="0.9"/>
<circle cx="516.53" cy="373.63" r="3.5" fill="none" stroke="#ff00ff" stroke-width="0.9"/>
<circle cx="519.79" cy="372.58" r="3.5" fill="none" stroke="#ff00ff" stroke-width="0.9"/>
<circle cx="523.05" cy="371.53" r="3.5" fill="none" stroke="#ff00ff" stroke-width="0.9"/>
<circle cx="526.32" cy="370.46" r="3.5" fill="none" stroke="#ff00ff" stroke-width="0.9"/>
<circle cx="529.58" cy="369.39" r="3.5" fill="none" stroke="#ff00ff" stroke-width="0.9"/>
<circle cx="532.84" cy="368.3" r="3.5" fill="none" stroke="#ff00ff" stroke-width="0.9"/>
<circle cx="536.1" cy="367.21" r="3.5" fill="none" stroke="#ff00ff" stroke-width="0.9"/>
<polyline points="343.66,369.87 346.92,392.8 350.19,402.43 353.45,315.36 356.71,410.41 359.97,424.04 363.23,412.74 366.49,413.73 369.75,438.99 373.02,424.7 376.28,432.34 379.54,386.81 382.8,383.16 386.06,420.38 389.32,345.94 392.59,440.98 395.85,430.68 399.11,420.38 402.37,411.41 405.63,390.47 408.89,437.99 412.16,359.56 415.42,414.4 418.68,446.97 421.94,443.98 425.2,389.14 428.47,390.47 431.73,361.89 434.99,415.73 438.25,395.12 441.51,369.87 444.77,392.13 448.04,361.89 451.3,381.83 454.56,357.9 457.82,433.67 461.08,423.37 464.34,360.89 467.61,389.14 470.87,356.24 474.13,383.16 477.39,386.15 480.65,408.42 483.91,359.56 487.18,405.43 490.44,339.96 493.7,358.9 496.96,360.23 500.22,292.43 503.48,394.46 506.75,380.5 510.01,359.56 513.27,358.57 516.53,403.43 519.79,356.57 523.05,337.3 526.32,313.04 529.58,317.36 532.84,287.45 536.1,370.2" fill="none" stroke="#d95319" stroke-width="1" stroke-opacity="0.7" stroke-linejoin="round" />
<path d="M340.66 369.87h6M343.66 366.87v6M341.54 367.74l4.24 4.24M341.54 371.99l4.24 -4.24" stroke="#d95319" stroke-width="0.8"/>
<path d="M343.92 392.8h6M346.92 389.8v6M344.8 390.68l4.24 4.24M344.8 394.92l4.24 -4.24" stroke="#d95319" stroke-width="0.8"/>
<path d="M347.19 402.43h6M350.19 399.43v6M348.06 400.31l4.24 4.24M348.06 404.56l4.24 -4.24" stroke="#d95319" stroke-width="0.8"/>
<path d="M350.45 315.36h6M353.45 312.36v6M351.33 313.24l4.24 4.24M351.33 317.48l4.24 -4.24" stroke="#d95319" stroke-width="0.8"/>
<path d="M353.71 410.41h6M356.71 407.41v6M354.59 408.29l4.24 4.24M354.59 412.53l4.24 -4.24" stroke="#d95319" stroke-width="0.8"/>
<path d="M356.97 424.04h6M359.97 421.04v6M357.85 421.91l4.24 4.24M357.85 426.16l4.24 -4.24" stroke="#d95319" stroke-width="0.8"/>
<path d="M360.23 412.74h6M363.23 409.74v6M361.11 410.62l4.24 4.24M361.11 414.86l4.24 -4.24" stroke="#d95319" stroke-width="0.8"/>
<path d="M363.49 413.73h6M366.49 410.73v6M364.37 411.61l4.24 4.24M364.37 415.85l4.24 -4.24" stroke="#d95319" stroke-width="0.8"/>
<path d="M366.75 438.99h6M369.75 435.99v6M367.63 436.87l4.24 4.24M367.63 441.11l4.24 -4.24" stroke="#d95319" stroke-width="0.8"/>
<path d="M370.02 424.7h6M373.02 421.7v6M370.9 422.58l4.24 4.24M370.9 426.82l4.24 -4.24" stroke="#d95319" stroke-width="0.8"/>
<path d="M373.28 432.34h6M376.28 429.34v6M374.16 430.22l4.24 4.24M374.16 434.46l4.24 -4.24" stroke="#d95319" stroke-width="0.8"/>
<path d="M376.54 386.81h6M379.54 383.81v6M377.42 384.69l4.24 4.24M377.42 388.94l4.24 -4.24" stroke="#d95319" stroke-width="0.8"/>
<path d="M379.8 383.16h6M382.8 380.16v6M380.68 381.04l4.24 4.24M380.68 385.28l4.24 -4.24" stroke="#d95319" stroke-width="0.8"/>
<path d="M383.06 420.38h6M386.06 417.38v6M383.94 418.26l4.24 4.24M383.94 422.5l4.24 -4.24" stroke="#d95319" stroke-width="0.8"/>
<path d="M386.32 345.94h6M389.32 342.94v6M387.2 343.82l4.24 4.24M387.2 348.06l4.24 -4.24" stroke="#d95319" stroke-width="0.8"/>
<path d="M389.59 440.98h6M392.59 437.98v6M390.47 438.86l4.24 4.24M390.47 443.11l4.24 -4.24" stroke="#d95319" stroke-width="0.8"/>
<path d="M392.85 430.68h6M395.85 427.68v6M393.73 428.56l4.24 4.24M393.73 432.8l4.24 -4.24" stroke="#d95319" stroke-width="0.8"/>
<path d="M396.11 420.38h6M399.11 417.38v6M396.99 418.26l4.24 4.24M396.99 422.5l4.24 -4.24" stroke="#d95319" stroke-width="0.8"/>
<path d="M399.37 411.41h6M402.37 408.41v6M400.25 409.29l4.24 4.24M400.25 413.53l4.24 -4.24" stroke="#d95319" stroke-width="0.8"/>
<path d="M402.63 390.47h6M405.63 387.47v6M403.51 388.35l4.24 4.24M403.51 392.59l4.24 -4.24" stroke="#d95319" stroke-width="0.8"/>
<path d="M405.89 437.99h6M408.89 434.99v6M406.77 435.87l4.24 4.24M406.77 440.11l4.24 -4.24" stroke="#d95319" stroke-width="0.8"/>
<path d="M409.16 359.56h6M412.16 356.56v6M410.04 357.44l4.24 4.24M410.04 361.68l4.24 -4.24" stroke="#d95319" stroke-width="0.8"/>
<path d="M412.42 414.4h6M415.42 411.4v6M413.3 412.28l4.24 4.24M413.3 416.52l4.24 -4.24" stroke="#d95319" stroke-width="0.8"/>
<path d="M415.68 446.97h6M418.68 443.97v6M416.56 444.85l4.24 4.24M416.56 449.09l4.24 -4.24" stroke="#d95319" stroke-width="0.8"/>
<path d="M418.94 443.98h6M421.94 440.98v6M419.82 441.85l4.24 4.24M419.82 446.1l4.24 -4.24" stroke="#d95319" stroke-width="0.8"/>
<path d="M422.2 389.14h6M425.2 386.14v6M423.08 387.02l4.24 4.24M423.08 391.26l4.24 -4.24" stroke="#d95319" stroke-width="0.8"/>
<path d="M425.47 390.47h6M428.47 387.47v6M426.34 388.35l4.24 4.24M426.34 392.59l4.24 -4.24" stroke="#d95319" stroke-width="0.8"/>
<path d="M428.73 361.89h6M431.73 358.89v6M429.61 359.77l4.24 4.24M429.61 364.01l4.24 -4.24" stroke="#d95319" stroke-width="0.8"/>
<path d="M431.99 415.73h6M434.99 412.73v6M432.87 413.61l4.24 4.24M432.87 417.85l4.24 -4.24" stroke="#d95319" stroke-width="0.8"/>
<path d="M435.25 395.12h6M438.25 392.12v6M436.13 393l4.24 4.24M436.13 397.24l4.24 -4.24" stroke="#d95319" stroke-width="0.8"/>
<path d="M438.51 369.87h6M441.51 366.87v6M439.39 367.74l4.24 4.24M439.39 371.99l4.24 -4.24" stroke="#d95319" stroke-width="0.8"/>
<path d="M441.77 392.13h6M444.77 389.13v6M442.65 390.01l4.24 4.24M442.65 394.25l4.24 -4.24" stroke="#d95319" stroke-width="0.8"/>
<path d="M445.04 361.89h6M448.04 358.89v6M445.91 359.77l4.24 4.24M445.91 364.01l4.24 -4.24" stroke="#d95319" stroke-width="0.8"/>
<path d="M448.3 381.83h6M451.3 378.83v6M449.18 379.71l4.24 4.24M449.18 383.95l4.24 -4.24" stroke="#d95319" stroke-width="0.8"/>
<path d="M451.56 357.9h6M454.56 354.9v6M452.44 355.78l4.24 4.24M452.44 360.02l4.24 -4.24" stroke="#d95319" stroke-width="0.8"/>
<path d="M454.82 433.67h6M457.82 430.67v6M455.7 431.55l4.24 4.24M455.7 435.79l4.24 -4.24" stroke="#d95319" stroke-width="0.8"/>
<path d="M458.08 423.37h6M461.08 420.37v6M458.96 421.25l4.24 4.24M458.96 425.49l4.24 -4.24" stroke="#d95319" stroke-width="0.8"/>
<path d="M461.34 360.89h6M464.34 357.89v6M462.22 358.77l4.24 4.24M462.22 363.01l4.24 -4.24" stroke="#d95319" stroke-width="0.8"/>
<path d="M464.61 389.14h6M467.61 386.14v6M465.48 387.02l4.24 4.24M465.48 391.26l4.24 -4.24" stroke="#d95319" stroke-width="0.8"/>
<path d="M467.87 356.24h6M470.87 353.24v6M468.75 354.12l4.24 4.24M468.75 358.36l4.24 -4.24" stroke="#d95319" stroke-width="0.8"/>
<path d="M471.13 383.16h6M474.13 380.16v6M472.01 381.04l4.24 4.24M472.01 385.28l4.24 -4.24" stroke="#d95319" stroke-width="0.8"/>
<path d="M474.39 386.15h6M477.39 383.15v6M475.27 384.03l4.24 4.24M475.27 388.27l4.24 -4.24" stroke="#d95319" stroke-width="0.8"/>
<path d="M477.65 408.42h6M480.65 405.42v6M478.53 406.3l4.24 4.24M478.53 410.54l4.24 -4.24" stroke="#d95319" stroke-width="0.8"/>
<path d="M480.91 359.56h6M483.91 356.56v6M481.79 357.44l4.24 4.24M481.79 361.68l4.24 -4.24" stroke="#d95319" stroke-width="0.8"/>
<path d="M484.18 405.43h6M487.18 402.43v6M485.05 403.3l4.24 4.24M485.05 407.55l4.24 -4.24" stroke="#d95319" stroke-width="0.8"/>
<path d="M487.44 339.96h6M490.44 336.96v6M488.32 337.83l4.24 4.24M488.32 342.08l4.24 -4.24" stroke="#d95319" stroke-width="0.8"/>
<path d="M490.7 358.9h6M493.7 355.9v6M491.58 356.78l4.24 4.24M491.58 361.02l4.24 -4.24" stroke="#d95319" stroke-width="0.8"/>
<path d="M493.96 360.23h6M496.96 357.23v6M494.84 358.11l4.24 4.24M494.84 362.35l4.24 -4.24" stroke="#d95319" stroke-width="0.8"/>
<path d="M497.22 292.43h6M500.22 289.43v6M498.1 290.31l4.24 4.24M498.1 294.55l4.24 -4.24" stroke="#d95319" stroke-width="0.8"/>
<path d="M500.48 394.46h6M503.48 391.46v6M501.36 392.34l4.24 4.24M501.36 396.58l4.24 -4.24" stroke="#d95319" stroke-width="0.8"/>
<path d="M503.75 380.5h6M506.75 377.5v6M504.62 378.38l4.24 4.24M504.62 382.62l4.24 -4.24" stroke="#d95319" stroke-width="0.8"/>
<path d="M507.01 359.56h6M510.01 356.56v6M507.89 357.44l4.24 4.24M507.89 361.68l4.24 -4.24" stroke="#d95319" stroke-width="0.8"/>
<path d="M510.27 358.57h6M513.27 355.57v6M511.15 356.45l4.24 4.24M511.15 360.69l4.24 -4.24" stroke="#d95319" stroke-width="0.8"/>
<path d="M513.53 403.43h6M516.53 400.43v6M514.41 401.31l4.24 4.24M514.41 405.55l4.24 -4.24" stroke="#d95319" stroke-width="0.8"/>
<path d="M516.79 356.57h6M519.79 353.57v6M517.67 354.45l4.24 4.24M517.67 358.69l4.24 -4.24" stroke="#d95319" stroke-width="0.8"/>
<path d="M520.05 337.3h6M523.05 334.3v6M520.93 335.18l4.24 4.24M520.93 339.42l4.24 -4.24" stroke="#d95319" stroke-width="0.8"/>
<path d="M523.32 313.04h6M526.32 310.04v6M524.19 310.92l4.24 4.24M524.19 315.16l4.24 -4.24" stroke="#d95319" stroke-width="0.8"/>
<path d="M526.58 317.36h6M529.58 314.36v6M527.46 315.24l4.24 4.24M527.46 319.48l4.24 -4.24" stroke="#d95319" stroke-width="0.8"/>
<path d="M529.84 287.45h6M532.84 284.45v6M530.72 285.33l4.24 4.24M530.72 289.57l4.24 -4.24" stroke="#d95319" stroke-width="0.8"/>
<path d="M533.1 370.2h6M536.1 367.2v6M533.98 368.08l4.24 4.24M533.98 372.32l4.24 -4.24" stroke="#d95319" stroke-width="0.8"/>
<polyline points="343.66,408.75 346.92,408.22 350.19,407.68 353.45,407.14 356.71,406.58 359.97,406.01 363.23,405.44 366.49,404.85 369.75,404.25 373.02,403.65 376.28,403.03 379.54,402.41 382.8,401.77 386.06,401.13 389.32,400.47 392.59,399.81 395.85,399.13 399.11,398.45 402.37,397.75 405.63,397.05 408.89,396.34 412.16,395.61 415.42,394.88 418.68,394.14 421.94,393.39 425.2,392.62 428.47,391.85 431.73,391.07 434.99,390.28 438.25,389.48 441.51,388.67 444.77,387.84 448.04,387.01 451.3,386.17 454.56,385.32 457.82,384.46 461.08,383.59 464.34,382.71 467.61,381.82 470.87,380.93 474.13,380.02 477.39,379.1 480.65,378.17 483.91,377.23 487.18,376.28 490.44,375.33 493.7,374.36 496.96,373.38 500.22,372.39 503.48,371.4 506.75,370.39 510.01,369.37 513.27,368.35 516.53,367.31 519.79,366.27 523.05,365.21 526.32,364.15 529.58,363.07 532.84,361.99 536.1,360.89" fill="none" stroke="#0000ff" stroke-width="0.7" stroke-opacity="1.0" stroke-linejoin="round" />
<path d="M340.46 408.75h6.4M343.66 405.55v6.4" stroke="#0000ff" stroke-width="0.65"/>
<path d="M343.72 408.22h6.4M346.92 405.02v6.4" stroke="#0000ff" stroke-width="0.65"/>
<path d="M346.99 407.68h6.4M350.19 404.48v6.4" stroke="#0000ff" stroke-width="0.65"/>
<path d="M350.25 407.14h6.4M353.45 403.94v6.4" stroke="#0000ff" stroke-width="0.65"/>
<path d="M353.51 406.58h6.4M356.71 403.38v6.4" stroke="#0000ff" stroke-width="0.65"/>
<path d="M356.77 406.01h6.4M359.97 402.81v6.4" stroke="#0000ff" stroke-width="0.65"/>
<path d="M360.03 405.44h6.4M363.23 402.24v6.4" stroke="#0000ff" stroke-width="0.65"/>
<path d="M363.29 404.85h6.4M366.49 401.65v6.4" stroke="#0000ff" stroke-width="0.65"/>
<path d="M366.56 404.25h6.4M369.75 401.05v6.4" stroke="#0000ff" stroke-width="0.65"/>
<path d="M369.82 403.65h6.4M373.02 400.45v6.4" stroke="#0000ff" stroke-width="0.65"/>
<path d="M373.08 403.03h6.4M376.28 399.83v6.4" stroke="#0000ff" stroke-width="0.65"/>
<path d="M376.34 402.41h6.4M379.54 399.21v6.4" stroke="#0000ff" stroke-width="0.65"/>
<path d="M379.6 401.77h6.4M382.8 398.57v6.4" stroke="#0000ff" stroke-width="0.65"/>
<path d="M382.86 401.13h6.4M386.06 397.93v6.4" stroke="#0000ff" stroke-width="0.65"/>
<path d="M386.12 400.47h6.4M389.32 397.27v6.4" stroke="#0000ff" stroke-width="0.65"/>
<path d="M389.39 399.81h6.4M392.59 396.61v6.4" stroke="#0000ff" stroke-width="0.65"/>
<path d="M392.65 399.13h6.4M395.85 395.93v6.4" stroke="#0000ff" stroke-width="0.65"/>
<path d="M395.91 398.45h6.4M399.11 395.25v6.4" stroke="#0000ff" stroke-width="0.65"/>
<path d="M399.17 397.75h6.4M402.37 394.55v6.4" stroke="#0000ff" stroke-width="0.65"/>
<path d="M402.43 397.05h6.4M405.63 393.85v6.4" stroke="#0000ff" stroke-width="0.65"/>
<path d="M405.69 396.34h6.4M408.89 393.14v6.4" stroke="#0000ff" stroke-width="0.65"/>
<path d="M408.96 395.61h6.4M412.16 392.41v6.4" stroke="#0000ff" stroke-width="0.65"/>
<path d="M412.22 394.88h6.4M415.42 391.68v6.4" stroke="#0000ff" stroke-width="0.65"/>
<path d="M415.48 394.14h6.4M418.68 390.94v6.4" stroke="#0000ff" stroke-width="0.65"/>
<path d="M418.74 393.39h6.4M421.94 390.19v6.4" stroke="#0000ff" stroke-width="0.65"/>
<path d="M422 392.62h6.4M425.2 389.42v6.4" stroke="#0000ff" stroke-width="0.65"/>
<path d="M425.27 391.85h6.4M428.47 388.65v6.4" stroke="#0000ff" stroke-width="0.65"/>
<path d="M428.53 391.07h6.4M431.73 387.87v6.4" stroke="#0000ff" stroke-width="0.65"/>
<path d="M431.79 390.28h6.4M434.99 387.08v6.4" stroke="#0000ff" stroke-width="0.65"/>
<path d="M435.05 389.48h6.4M438.25 386.28v6.4" stroke="#0000ff" stroke-width="0.65"/>
<path d="M438.31 388.67h6.4M441.51 385.47v6.4" stroke="#0000ff" stroke-width="0.65"/>
<path d="M441.57 387.84h6.4M444.77 384.64v6.4" stroke="#0000ff" stroke-width="0.65"/>
<path d="M444.84 387.01h6.4M448.04 383.81v6.4" stroke="#0000ff" stroke-width="0.65"/>
<path d="M448.1 386.17h6.4M451.3 382.97v6.4" stroke="#0000ff" stroke-width="0.65"/>
<path d="M451.36 385.32h6.4M454.56 382.12v6.4" stroke="#0000ff" stroke-width="0.65"/>
<path d="M454.62 384.46h6.4M457.82 381.26v6.4" stroke="#0000ff" stroke-width="0.65"/>
<path d="M457.88 383.59h6.4M461.08 380.39v6.4" stroke="#0000ff" stroke-width="0.65"/>
<path d="M461.14 382.71h6.4M464.34 379.51v6.4" stroke="#0000ff" stroke-width="0.65"/>
<path d="M464.41 381.82h6.4M467.61 378.62v6.4" stroke="#0000ff" stroke-width="0.65"/>
<path d="M467.67 380.93h6.4M470.87 377.73v6.4" stroke="#0000ff" stroke-width="0.65"/>
<path d="M470.93 380.02h6.4M474.13 376.82v6.4" stroke="#0000ff" stroke-width="0.65"/>
<path d="M474.19 379.1h6.4M477.39 375.9v6.4" stroke="#0000ff" stroke-width="0.65"/>
<path d="M477.45 378.17h6.4M480.65 374.97v6.4" stroke="#0000ff" stroke-width="0.65"/>
<path d="M480.71 377.23h6.4M483.91 374.03v6.4" stroke="#0000ff" stroke-width="0.65"/>
<path d="M483.98 376.28h6.4M487.18 373.08v6.4" stroke="#0000ff" stroke-width="0.65"/>
<path d="M487.24 375.33h6.4M490.44 372.13v6.4" stroke="#0000ff" stroke-width="0.65"/>
<path d="M490.5 374.36h6.4M493.7 371.16v6.4" stroke="#0000ff" stroke-width="0.65"/>
<path d="M493.76 373.38h6.4M496.96 370.18v6.4" stroke="#0000ff" stroke-width="0.65"/>
<path d="M497.02 372.39h6.4M500.22 369.19v6.4" stroke="#0000ff" stroke-width="0.65"/>
<path d="M500.28 371.4h6.4M503.48 368.2v6.4" stroke="#0000ff" stroke-width="0.65"/>
<path d="M503.55 370.39h6.4M506.75 367.19v6.4" stroke="#0000ff" stroke-width="0.65"/>
<path d="M506.81 369.37h6.4M510.01 366.17v6.4" stroke="#0000ff" stroke-width="0.65"/>
<path d="M510.07 368.35h6.4M513.27 365.15v6.4" stroke="#0000ff" stroke-width="0.65"/>
<path d="M513.33 367.31h6.4M516.53 364.11v6.4" stroke="#0000ff" stroke-width="0.65"/>
<path d="M516.59 366.27h6.4M519.79 363.07v6.4" stroke="#0000ff" stroke-width="0.65"/>
<path d="M519.85 365.21h6.4M523.05 362.01v6.4" stroke="#0000ff" stroke-width="0.65"/>
<path d="M523.12 364.15h6.4M526.32 360.95v6.4" stroke="#0000ff" stroke-width="0.65"/>
<path d="M526.38 363.07h6.4M529.58 359.87v6.4" stroke="#0000ff" stroke-width="0.65"/>
<path d="M529.64 361.99h6.4M532.84 358.79v6.4" stroke="#0000ff" stroke-width="0.65"/>
<path d="M532.9 360.89h6.4M536.1 357.69v6.4" stroke="#0000ff" stroke-width="0.65"/>
</g>
<rect x="340.4" y="280.8" width="195.7" height="199.4" fill="none" stroke="#787878" stroke-width="1"/>
<line x1="340.4" y1="480.2" x2="340.4" y2="478.2" stroke="#787878" stroke-width="1"/>
<line x1="340.4" y1="280.8" x2="340.4" y2="282.8" stroke="#787878" stroke-width="1"/>
<text x="340.4" y="497.7" text-anchor="middle" font-size="11.4">0</text>
<line x1="405.63" y1="480.2" x2="405.63" y2="478.2" stroke="#787878" stroke-width="1"/>
<line x1="405.63" y1="280.8" x2="405.63" y2="282.8" stroke="#787878" stroke-width="1"/>
<text x="405.63" y="497.7" text-anchor="middle" font-size="11.4">20</text>
<line x1="470.87" y1="480.2" x2="470.87" y2="478.2" stroke="#787878" stroke-width="1"/>
<line x1="470.87" y1="280.8" x2="470.87" y2="282.8" stroke="#787878" stroke-width="1"/>
<text x="470.87" y="497.7" text-anchor="middle" font-size="11.4">40</text>
<line x1="536.1" y1="480.2" x2="536.1" y2="478.2" stroke="#787878" stroke-width="1"/>
<line x1="536.1" y1="280.8" x2="536.1" y2="282.8" stroke="#787878" stroke-width="1"/>
<text x="536.1" y="497.7" text-anchor="middle" font-size="11.4">60</text>
<line x1="340.4" y1="480.2" x2="342.4" y2="480.2" stroke="#787878" stroke-width="1"/>
<line x1="536.1" y1="480.2" x2="534.1" y2="480.2" stroke="#787878" stroke-width="1"/>
<text x="335.4" y="484.9" text-anchor="end" font-size="11.4">-17</text>
<line x1="340.4" y1="446.97" x2="342.4" y2="446.97" stroke="#787878" stroke-width="1"/>
<line x1="536.1" y1="446.97" x2="534.1" y2="446.97" stroke="#787878" stroke-width="1"/>
<text x="335.4" y="451.67" text-anchor="end" font-size="11.4">-16</text>
<line x1="340.4" y1="413.73" x2="342.4" y2="413.73" stroke="#787878" stroke-width="1"/>
<line x1="536.1" y1="413.73" x2="534.1" y2="413.73" stroke="#787878" stroke-width="1"/>
<text x="335.4" y="418.43" text-anchor="end" font-size="11.4">-15</text>
<line x1="340.4" y1="380.5" x2="342.4" y2="380.5" stroke="#787878" stroke-width="1"/>
<line x1="536.1" y1="380.5" x2="534.1" y2="380.5" stroke="#787878" stroke-width="1"/>
<text x="335.4" y="385.2" text-anchor="end" font-size="11.4">-14</text>
<line x1="340.4" y1="347.27" x2="342.4" y2="347.27" stroke="#787878" stroke-width="1"/>
<line x1="536.1" y1="347.27" x2="534.1" y2="347.27" stroke="#787878" stroke-width="1"/>
<text x="335.4" y="351.97" text-anchor="end" font-size="11.4">-13</text>
<line x1="340.4" y1="314.03" x2="342.4" y2="314.03" stroke="#787878" stroke-width="1"/>
<line x1="536.1" y1="314.03" x2="534.1" y2="314.03" stroke="#787878" stroke-width="1"/>
<text x="335.4" y="318.73" text-anchor="end" font-size="11.4">-12</text>
<line x1="340.4" y1="280.8" x2="342.4" y2="280.8" stroke="#787878" stroke-width="1"/>
<line x1="536.1" y1="280.8" x2="534.1" y2="280.8" stroke="#787878" stroke-width="1"/>
<text x="335.4" y="285.5" text-anchor="end" font-size="11.4">-11</text>
<text x="438.25" y="512.2" text-anchor="middle">Sample times/(times)</text>
<text x="314.8" y="380.5" text-anchor="middle" transform="rotate(-90 314 380.5)">Gravity anomaly/(mGal)</text>
<rect x="387.4" y="280.8" width="148.7" height="49.4" fill="#fff" stroke="#787878" stroke-width="1"/>
<polyline points="389.9,290 422.2,290" fill="none" stroke="#ff00ff" stroke-width="0.8" stroke-opacity="0.6" stroke-linejoin="round" />
<circle cx="406.2" cy="290" r="3.3" fill="none" stroke="#ff00ff" stroke-width="0.9"/>
<polyline points="389.9,305.8 422.2,305.8" fill="none" stroke="#d95319" stroke-width="0.8" stroke-opacity="0.6" stroke-linejoin="round" />
<path d="M403.2 305.8h6M406.2 302.8v6M404.08 303.68l4.24 4.24M404.08 307.92l4.24 -4.24" stroke="#d95319" stroke-width="0.8"/>
<polyline points="389.9,321.8 422.2,321.8" fill="none" stroke="#0000ff" stroke-width="0.8" stroke-opacity="0.6" stroke-linejoin="round" />
<path d="M403 321.8h6.4M406.2 318.6v6.4" stroke="#0000ff" stroke-width="0.65"/>
<defs><clipPath id="cl387"><rect x="387.4" y="280.8" width="148.7" height="49.4"/></clipPath></defs>
<g clip-path="url(#cl387)">
<text x="425.1" y="294.9" font-size="11.5">Simulated Data</text>
<text x="425.1" y="310.4" font-size="11.5">Measurement Error</text>
<text x="425.1" y="328.7" font-size="11.5">Matching Result</text>
</g>
<text x="126.8" y="270" text-anchor="middle" font-family='"Liberation Serif", serif' font-size="14.6" style="stroke:none">(a)</text>
<text x="421.9" y="269.8" text-anchor="middle" font-family='"Liberation Serif", serif' font-size="14.6" style="stroke:none">(b)</text>
<text x="126.5" y="528.8" text-anchor="middle" font-family='"Liberation Serif", serif' font-size="14.6" style="stroke:none">(c)</text>
<text x="421.9" y="529" text-anchor="middle" font-family='"Liberation Serif", serif' font-size="14.6" style="stroke:none">(d)</text>
</svg></body></html>
